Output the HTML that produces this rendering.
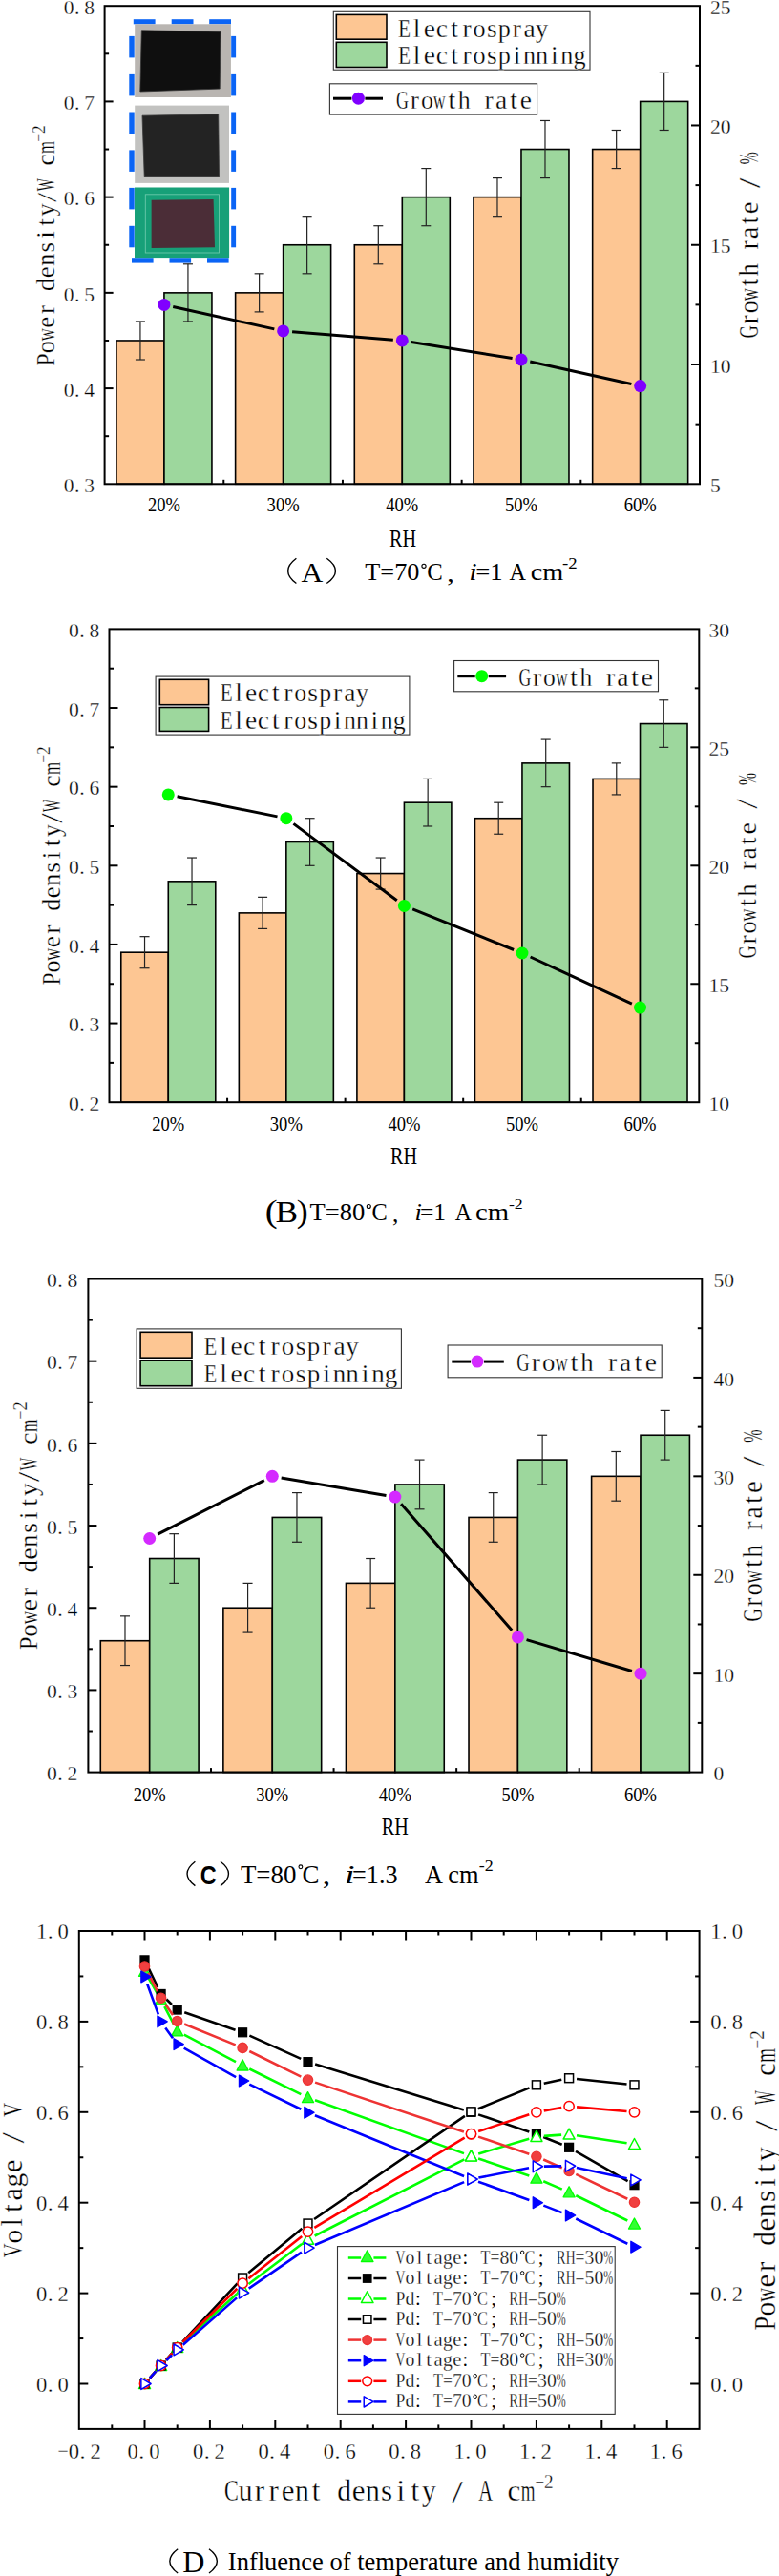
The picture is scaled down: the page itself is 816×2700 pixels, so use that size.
<!DOCTYPE html><html><head><meta charset="utf-8"><title>Figure</title><style>html,body{margin:0;padding:0;background:#fff;}svg{display:block;}</style></head><body>
<svg width="816" height="2700" viewBox="0 0 816 2700">
<rect x="0" y="0" width="816" height="2700" fill="#fff"/>
<rect x="121.94" y="356.97" width="50" height="150.33" fill="#FDC693" stroke="#000" stroke-width="1.6"/>
<rect x="171.94" y="306.86" width="50" height="200.44" fill="#9DD79D" stroke="#000" stroke-width="1.6"/>
<rect x="246.62" y="306.86" width="50" height="200.44" fill="#FDC693" stroke="#000" stroke-width="1.6"/>
<rect x="296.62" y="256.75" width="50" height="250.55" fill="#9DD79D" stroke="#000" stroke-width="1.6"/>
<rect x="371.3" y="256.75" width="50" height="250.55" fill="#FDC693" stroke="#000" stroke-width="1.6"/>
<rect x="421.3" y="206.64" width="50" height="300.66" fill="#9DD79D" stroke="#000" stroke-width="1.6"/>
<rect x="495.98" y="206.64" width="50" height="300.66" fill="#FDC693" stroke="#000" stroke-width="1.6"/>
<rect x="545.98" y="156.53" width="50" height="350.77" fill="#9DD79D" stroke="#000" stroke-width="1.6"/>
<rect x="620.66" y="156.53" width="50" height="350.77" fill="#FDC693" stroke="#000" stroke-width="1.6"/>
<rect x="670.66" y="106.42" width="50" height="400.88" fill="#9DD79D" stroke="#000" stroke-width="1.6"/>
<line x1="146.94" y1="336.93" x2="146.94" y2="377.01" stroke="#222" stroke-width="1.2"/>
<line x1="141.94" y1="336.93" x2="151.94" y2="336.93" stroke="#222" stroke-width="1.2"/>
<line x1="141.94" y1="377.01" x2="151.94" y2="377.01" stroke="#222" stroke-width="1.2"/>
<line x1="196.94" y1="276.79" x2="196.94" y2="336.93" stroke="#222" stroke-width="1.2"/>
<line x1="191.94" y1="276.79" x2="201.94" y2="276.79" stroke="#222" stroke-width="1.2"/>
<line x1="191.94" y1="336.93" x2="201.94" y2="336.93" stroke="#222" stroke-width="1.2"/>
<line x1="271.62" y1="286.82" x2="271.62" y2="326.9" stroke="#222" stroke-width="1.2"/>
<line x1="266.62" y1="286.82" x2="276.62" y2="286.82" stroke="#222" stroke-width="1.2"/>
<line x1="266.62" y1="326.9" x2="276.62" y2="326.9" stroke="#222" stroke-width="1.2"/>
<line x1="321.62" y1="226.68" x2="321.62" y2="286.82" stroke="#222" stroke-width="1.2"/>
<line x1="316.62" y1="226.68" x2="326.62" y2="226.68" stroke="#222" stroke-width="1.2"/>
<line x1="316.62" y1="286.82" x2="326.62" y2="286.82" stroke="#222" stroke-width="1.2"/>
<line x1="396.3" y1="236.71" x2="396.3" y2="276.79" stroke="#222" stroke-width="1.2"/>
<line x1="391.3" y1="236.71" x2="401.3" y2="236.71" stroke="#222" stroke-width="1.2"/>
<line x1="391.3" y1="276.79" x2="401.3" y2="276.79" stroke="#222" stroke-width="1.2"/>
<line x1="446.3" y1="176.57" x2="446.3" y2="236.71" stroke="#222" stroke-width="1.2"/>
<line x1="441.3" y1="176.57" x2="451.3" y2="176.57" stroke="#222" stroke-width="1.2"/>
<line x1="441.3" y1="236.71" x2="451.3" y2="236.71" stroke="#222" stroke-width="1.2"/>
<line x1="520.98" y1="186.6" x2="520.98" y2="226.68" stroke="#222" stroke-width="1.2"/>
<line x1="515.98" y1="186.6" x2="525.98" y2="186.6" stroke="#222" stroke-width="1.2"/>
<line x1="515.98" y1="226.68" x2="525.98" y2="226.68" stroke="#222" stroke-width="1.2"/>
<line x1="570.98" y1="126.46" x2="570.98" y2="186.6" stroke="#222" stroke-width="1.2"/>
<line x1="565.98" y1="126.46" x2="575.98" y2="126.46" stroke="#222" stroke-width="1.2"/>
<line x1="565.98" y1="186.6" x2="575.98" y2="186.6" stroke="#222" stroke-width="1.2"/>
<line x1="645.66" y1="136.49" x2="645.66" y2="176.57" stroke="#222" stroke-width="1.2"/>
<line x1="640.66" y1="136.49" x2="650.66" y2="136.49" stroke="#222" stroke-width="1.2"/>
<line x1="640.66" y1="176.57" x2="650.66" y2="176.57" stroke="#222" stroke-width="1.2"/>
<line x1="695.66" y1="76.35" x2="695.66" y2="136.49" stroke="#222" stroke-width="1.2"/>
<line x1="690.66" y1="76.35" x2="700.66" y2="76.35" stroke="#222" stroke-width="1.2"/>
<line x1="690.66" y1="136.49" x2="700.66" y2="136.49" stroke="#222" stroke-width="1.2"/>
<rect x="109.6" y="6.2" width="623.4" height="501.1" fill="none" stroke="#000" stroke-width="2"/>
<line x1="109.6" y1="457.19" x2="114.1" y2="457.19" stroke="#000" stroke-width="2"/>
<line x1="109.6" y1="407.08" x2="118.6" y2="407.08" stroke="#000" stroke-width="2"/>
<line x1="109.6" y1="356.97" x2="114.1" y2="356.97" stroke="#000" stroke-width="2"/>
<line x1="109.6" y1="306.86" x2="118.6" y2="306.86" stroke="#000" stroke-width="2"/>
<line x1="109.6" y1="256.75" x2="114.1" y2="256.75" stroke="#000" stroke-width="2"/>
<line x1="109.6" y1="206.64" x2="118.6" y2="206.64" stroke="#000" stroke-width="2"/>
<line x1="109.6" y1="156.53" x2="114.1" y2="156.53" stroke="#000" stroke-width="2"/>
<line x1="109.6" y1="106.42" x2="118.6" y2="106.42" stroke="#000" stroke-width="2"/>
<line x1="109.6" y1="56.31" x2="114.1" y2="56.31" stroke="#000" stroke-width="2"/>
<line x1="733" y1="444.66" x2="728.5" y2="444.66" stroke="#000" stroke-width="2"/>
<line x1="733" y1="382.02" x2="724" y2="382.02" stroke="#000" stroke-width="2"/>
<line x1="733" y1="319.39" x2="728.5" y2="319.39" stroke="#000" stroke-width="2"/>
<line x1="733" y1="256.75" x2="724" y2="256.75" stroke="#000" stroke-width="2"/>
<line x1="733" y1="194.11" x2="728.5" y2="194.11" stroke="#000" stroke-width="2"/>
<line x1="733" y1="131.47" x2="724" y2="131.47" stroke="#000" stroke-width="2"/>
<line x1="733" y1="68.84" x2="728.5" y2="68.84" stroke="#000" stroke-width="2"/>
<line x1="234.28" y1="507.3" x2="234.28" y2="502.8" stroke="#000" stroke-width="2"/>
<line x1="358.96" y1="507.3" x2="358.96" y2="502.8" stroke="#000" stroke-width="2"/>
<line x1="483.64" y1="507.3" x2="483.64" y2="502.8" stroke="#000" stroke-width="2"/>
<line x1="608.32" y1="507.3" x2="608.32" y2="502.8" stroke="#000" stroke-width="2"/>
<path d="M181.22 321.44L287.34 344.9M306.09 347.71L411.83 356.21M430.68 358.48L536.6 375.51M555.26 379.06L661.38 402.52" fill="none" stroke="#000" stroke-width="3" stroke-linecap="butt"/>
<circle cx="171.94" cy="319.39" r="6.5" fill="#8000FF"/>
<circle cx="296.62" cy="346.95" r="6.5" fill="#8000FF"/>
<circle cx="421.3" cy="356.97" r="6.5" fill="#8000FF"/>
<circle cx="545.98" cy="377.01" r="6.5" fill="#8000FF"/>
<circle cx="670.66" cy="404.57" r="6.5" fill="#8000FF"/>
<g font-family='"Liberation Serif", serif' font-size='21.7' stroke="#fff" stroke-width="0.3"><text transform="translate(72.1 516.1) scale(0.995 1.000)" text-anchor="middle">0</text><text transform="translate(80.74 516.1)" text-anchor="middle">.</text><text transform="translate(93.7 516.1) scale(0.995 1.000)" text-anchor="middle">3</text></g>
<g font-family='"Liberation Serif", serif' font-size='21.7' stroke="#fff" stroke-width="0.3"><text transform="translate(72.1 415.88) scale(0.995 1.000)" text-anchor="middle">0</text><text transform="translate(80.74 415.88)" text-anchor="middle">.</text><text transform="translate(93.7 415.88) scale(0.995 1.000)" text-anchor="middle">4</text></g>
<g font-family='"Liberation Serif", serif' font-size='21.7' stroke="#fff" stroke-width="0.3"><text transform="translate(72.1 315.66) scale(0.995 1.000)" text-anchor="middle">0</text><text transform="translate(80.74 315.66)" text-anchor="middle">.</text><text transform="translate(93.7 315.66) scale(0.995 1.000)" text-anchor="middle">5</text></g>
<g font-family='"Liberation Serif", serif' font-size='21.7' stroke="#fff" stroke-width="0.3"><text transform="translate(72.1 215.44) scale(0.995 1.000)" text-anchor="middle">0</text><text transform="translate(80.74 215.44)" text-anchor="middle">.</text><text transform="translate(93.7 215.44) scale(0.995 1.000)" text-anchor="middle">6</text></g>
<g font-family='"Liberation Serif", serif' font-size='21.7' stroke="#fff" stroke-width="0.3"><text transform="translate(72.1 115.22) scale(0.995 1.000)" text-anchor="middle">0</text><text transform="translate(80.74 115.22)" text-anchor="middle">.</text><text transform="translate(93.7 115.22) scale(0.995 1.000)" text-anchor="middle">7</text></g>
<g font-family='"Liberation Serif", serif' font-size='21.7' stroke="#fff" stroke-width="0.3"><text transform="translate(72.1 15) scale(0.995 1.000)" text-anchor="middle">0</text><text transform="translate(80.74 15)" text-anchor="middle">.</text><text transform="translate(93.7 15) scale(0.995 1.000)" text-anchor="middle">8</text></g>
<g font-family='"Liberation Serif", serif' font-size='21.7' stroke="#fff" stroke-width="0.3"><text transform="translate(749.4 515.9) scale(0.995 1.000)" text-anchor="middle">5</text></g>
<g font-family='"Liberation Serif", serif' font-size='21.7' stroke="#fff" stroke-width="0.3"><text transform="translate(749.4 390.62) scale(0.995 1.000)" text-anchor="middle">1</text><text transform="translate(760.2 390.62) scale(0.995 1.000)" text-anchor="middle">0</text></g>
<g font-family='"Liberation Serif", serif' font-size='21.7' stroke="#fff" stroke-width="0.3"><text transform="translate(749.4 265.35) scale(0.995 1.000)" text-anchor="middle">1</text><text transform="translate(760.2 265.35) scale(0.995 1.000)" text-anchor="middle">5</text></g>
<g font-family='"Liberation Serif", serif' font-size='21.7' stroke="#fff" stroke-width="0.3"><text transform="translate(749.4 140.07) scale(0.995 1.000)" text-anchor="middle">2</text><text transform="translate(760.2 140.07) scale(0.995 1.000)" text-anchor="middle">0</text></g>
<g font-family='"Liberation Serif", serif' font-size='21.7' stroke="#fff" stroke-width="0.3"><text transform="translate(749.4 14.8) scale(0.995 1.000)" text-anchor="middle">2</text><text transform="translate(760.2 14.8) scale(0.995 1.000)" text-anchor="middle">5</text></g>
<text x="171.94" y="536.3" font-size="20.5" font-family='"Liberation Serif", serif' text-anchor="middle" textLength="34" lengthAdjust="spacingAndGlyphs">20%</text>
<text x="296.62" y="536.3" font-size="20.5" font-family='"Liberation Serif", serif' text-anchor="middle" textLength="34" lengthAdjust="spacingAndGlyphs">30%</text>
<text x="421.3" y="536.3" font-size="20.5" font-family='"Liberation Serif", serif' text-anchor="middle" textLength="34" lengthAdjust="spacingAndGlyphs">40%</text>
<text x="545.98" y="536.3" font-size="20.5" font-family='"Liberation Serif", serif' text-anchor="middle" textLength="34" lengthAdjust="spacingAndGlyphs">50%</text>
<text x="670.66" y="536.3" font-size="20.5" font-family='"Liberation Serif", serif' text-anchor="middle" textLength="34" lengthAdjust="spacingAndGlyphs">60%</text>
<text x="422" y="572.6" font-size="24.5" font-family='"Liberation Serif", serif' text-anchor="middle" textLength="28" lengthAdjust="spacingAndGlyphs">RH</text>
<rect x="126.78" y="998.2" width="49.5" height="157" fill="#FDC693" stroke="#000" stroke-width="1.6"/>
<rect x="176.28" y="923.83" width="49.5" height="231.37" fill="#9DD79D" stroke="#000" stroke-width="1.6"/>
<rect x="250.34" y="956.88" width="49.5" height="198.32" fill="#FDC693" stroke="#000" stroke-width="1.6"/>
<rect x="299.84" y="882.51" width="49.5" height="272.69" fill="#9DD79D" stroke="#000" stroke-width="1.6"/>
<rect x="373.9" y="915.56" width="49.5" height="239.64" fill="#FDC693" stroke="#000" stroke-width="1.6"/>
<rect x="423.4" y="841.19" width="49.5" height="314.01" fill="#9DD79D" stroke="#000" stroke-width="1.6"/>
<rect x="497.46" y="857.72" width="49.5" height="297.48" fill="#FDC693" stroke="#000" stroke-width="1.6"/>
<rect x="546.96" y="799.88" width="49.5" height="355.32" fill="#9DD79D" stroke="#000" stroke-width="1.6"/>
<rect x="621.02" y="816.4" width="49.5" height="338.8" fill="#FDC693" stroke="#000" stroke-width="1.6"/>
<rect x="670.52" y="758.56" width="49.5" height="396.64" fill="#9DD79D" stroke="#000" stroke-width="1.6"/>
<line x1="151.53" y1="981.67" x2="151.53" y2="1014.72" stroke="#222" stroke-width="1.2"/>
<line x1="146.53" y1="981.67" x2="156.53" y2="981.67" stroke="#222" stroke-width="1.2"/>
<line x1="146.53" y1="1014.72" x2="156.53" y2="1014.72" stroke="#222" stroke-width="1.2"/>
<line x1="201.03" y1="899.04" x2="201.03" y2="948.62" stroke="#222" stroke-width="1.2"/>
<line x1="196.03" y1="899.04" x2="206.03" y2="899.04" stroke="#222" stroke-width="1.2"/>
<line x1="196.03" y1="948.62" x2="206.03" y2="948.62" stroke="#222" stroke-width="1.2"/>
<line x1="275.09" y1="940.35" x2="275.09" y2="973.41" stroke="#222" stroke-width="1.2"/>
<line x1="270.09" y1="940.35" x2="280.09" y2="940.35" stroke="#222" stroke-width="1.2"/>
<line x1="270.09" y1="973.41" x2="280.09" y2="973.41" stroke="#222" stroke-width="1.2"/>
<line x1="324.59" y1="857.72" x2="324.59" y2="907.3" stroke="#222" stroke-width="1.2"/>
<line x1="319.59" y1="857.72" x2="329.59" y2="857.72" stroke="#222" stroke-width="1.2"/>
<line x1="319.59" y1="907.3" x2="329.59" y2="907.3" stroke="#222" stroke-width="1.2"/>
<line x1="398.65" y1="899.04" x2="398.65" y2="932.09" stroke="#222" stroke-width="1.2"/>
<line x1="393.65" y1="899.04" x2="403.65" y2="899.04" stroke="#222" stroke-width="1.2"/>
<line x1="393.65" y1="932.09" x2="403.65" y2="932.09" stroke="#222" stroke-width="1.2"/>
<line x1="448.15" y1="816.4" x2="448.15" y2="865.98" stroke="#222" stroke-width="1.2"/>
<line x1="443.15" y1="816.4" x2="453.15" y2="816.4" stroke="#222" stroke-width="1.2"/>
<line x1="443.15" y1="865.98" x2="453.15" y2="865.98" stroke="#222" stroke-width="1.2"/>
<line x1="522.21" y1="841.19" x2="522.21" y2="874.25" stroke="#222" stroke-width="1.2"/>
<line x1="517.21" y1="841.19" x2="527.21" y2="841.19" stroke="#222" stroke-width="1.2"/>
<line x1="517.21" y1="874.25" x2="527.21" y2="874.25" stroke="#222" stroke-width="1.2"/>
<line x1="571.71" y1="775.09" x2="571.71" y2="824.67" stroke="#222" stroke-width="1.2"/>
<line x1="566.71" y1="775.09" x2="576.71" y2="775.09" stroke="#222" stroke-width="1.2"/>
<line x1="566.71" y1="824.67" x2="576.71" y2="824.67" stroke="#222" stroke-width="1.2"/>
<line x1="645.77" y1="799.88" x2="645.77" y2="832.93" stroke="#222" stroke-width="1.2"/>
<line x1="640.77" y1="799.88" x2="650.77" y2="799.88" stroke="#222" stroke-width="1.2"/>
<line x1="640.77" y1="832.93" x2="650.77" y2="832.93" stroke="#222" stroke-width="1.2"/>
<line x1="695.27" y1="733.77" x2="695.27" y2="783.35" stroke="#222" stroke-width="1.2"/>
<line x1="690.27" y1="733.77" x2="700.27" y2="733.77" stroke="#222" stroke-width="1.2"/>
<line x1="690.27" y1="783.35" x2="700.27" y2="783.35" stroke="#222" stroke-width="1.2"/>
<rect x="114.5" y="659.4" width="617.8" height="495.8" fill="none" stroke="#000" stroke-width="2"/>
<line x1="114.5" y1="1113.88" x2="119" y2="1113.88" stroke="#000" stroke-width="2"/>
<line x1="114.5" y1="1072.57" x2="123.5" y2="1072.57" stroke="#000" stroke-width="2"/>
<line x1="114.5" y1="1031.25" x2="119" y2="1031.25" stroke="#000" stroke-width="2"/>
<line x1="114.5" y1="989.93" x2="123.5" y2="989.93" stroke="#000" stroke-width="2"/>
<line x1="114.5" y1="948.62" x2="119" y2="948.62" stroke="#000" stroke-width="2"/>
<line x1="114.5" y1="907.3" x2="123.5" y2="907.3" stroke="#000" stroke-width="2"/>
<line x1="114.5" y1="865.98" x2="119" y2="865.98" stroke="#000" stroke-width="2"/>
<line x1="114.5" y1="824.67" x2="123.5" y2="824.67" stroke="#000" stroke-width="2"/>
<line x1="114.5" y1="783.35" x2="119" y2="783.35" stroke="#000" stroke-width="2"/>
<line x1="114.5" y1="742.03" x2="123.5" y2="742.03" stroke="#000" stroke-width="2"/>
<line x1="114.5" y1="700.72" x2="119" y2="700.72" stroke="#000" stroke-width="2"/>
<line x1="732.3" y1="1093.23" x2="727.8" y2="1093.23" stroke="#000" stroke-width="2"/>
<line x1="732.3" y1="1031.25" x2="723.3" y2="1031.25" stroke="#000" stroke-width="2"/>
<line x1="732.3" y1="969.28" x2="727.8" y2="969.28" stroke="#000" stroke-width="2"/>
<line x1="732.3" y1="907.3" x2="723.3" y2="907.3" stroke="#000" stroke-width="2"/>
<line x1="732.3" y1="845.33" x2="727.8" y2="845.33" stroke="#000" stroke-width="2"/>
<line x1="732.3" y1="783.35" x2="723.3" y2="783.35" stroke="#000" stroke-width="2"/>
<line x1="732.3" y1="721.38" x2="727.8" y2="721.38" stroke="#000" stroke-width="2"/>
<line x1="238.06" y1="1155.2" x2="238.06" y2="1150.7" stroke="#000" stroke-width="2"/>
<line x1="361.62" y1="1155.2" x2="361.62" y2="1150.7" stroke="#000" stroke-width="2"/>
<line x1="485.18" y1="1155.2" x2="485.18" y2="1150.7" stroke="#000" stroke-width="2"/>
<line x1="608.74" y1="1155.2" x2="608.74" y2="1150.7" stroke="#000" stroke-width="2"/>
<path d="M185.59 834.8L290.53 855.85M307.47 863.38L415.77 943.78M432.22 952.98L538.14 995.49M555.59 1003L661.89 1052.06" fill="none" stroke="#000" stroke-width="3" stroke-linecap="butt"/>
<circle cx="176.28" cy="832.93" r="6.5" fill="#00FF00"/>
<circle cx="299.84" cy="857.72" r="6.5" fill="#00FF00"/>
<circle cx="423.4" cy="949.44" r="6.5" fill="#00FF00"/>
<circle cx="546.96" cy="999.02" r="6.5" fill="#00FF00"/>
<circle cx="670.52" cy="1056.04" r="6.5" fill="#00FF00"/>
<g font-family='"Liberation Serif", serif' font-size='21.7' stroke="#fff" stroke-width="0.3"><text transform="translate(77.3 1164) scale(0.995 1.000)" text-anchor="middle">0</text><text transform="translate(85.94 1164)" text-anchor="middle">.</text><text transform="translate(98.9 1164) scale(0.995 1.000)" text-anchor="middle">2</text></g>
<g font-family='"Liberation Serif", serif' font-size='21.7' stroke="#fff" stroke-width="0.3"><text transform="translate(77.3 1081.37) scale(0.995 1.000)" text-anchor="middle">0</text><text transform="translate(85.94 1081.37)" text-anchor="middle">.</text><text transform="translate(98.9 1081.37) scale(0.995 1.000)" text-anchor="middle">3</text></g>
<g font-family='"Liberation Serif", serif' font-size='21.7' stroke="#fff" stroke-width="0.3"><text transform="translate(77.3 998.73) scale(0.995 1.000)" text-anchor="middle">0</text><text transform="translate(85.94 998.73)" text-anchor="middle">.</text><text transform="translate(98.9 998.73) scale(0.995 1.000)" text-anchor="middle">4</text></g>
<g font-family='"Liberation Serif", serif' font-size='21.7' stroke="#fff" stroke-width="0.3"><text transform="translate(77.3 916.1) scale(0.995 1.000)" text-anchor="middle">0</text><text transform="translate(85.94 916.1)" text-anchor="middle">.</text><text transform="translate(98.9 916.1) scale(0.995 1.000)" text-anchor="middle">5</text></g>
<g font-family='"Liberation Serif", serif' font-size='21.7' stroke="#fff" stroke-width="0.3"><text transform="translate(77.3 833.47) scale(0.995 1.000)" text-anchor="middle">0</text><text transform="translate(85.94 833.47)" text-anchor="middle">.</text><text transform="translate(98.9 833.47) scale(0.995 1.000)" text-anchor="middle">6</text></g>
<g font-family='"Liberation Serif", serif' font-size='21.7' stroke="#fff" stroke-width="0.3"><text transform="translate(77.3 750.83) scale(0.995 1.000)" text-anchor="middle">0</text><text transform="translate(85.94 750.83)" text-anchor="middle">.</text><text transform="translate(98.9 750.83) scale(0.995 1.000)" text-anchor="middle">7</text></g>
<g font-family='"Liberation Serif", serif' font-size='21.7' stroke="#fff" stroke-width="0.3"><text transform="translate(77.3 668.2) scale(0.995 1.000)" text-anchor="middle">0</text><text transform="translate(85.94 668.2)" text-anchor="middle">.</text><text transform="translate(98.9 668.2) scale(0.995 1.000)" text-anchor="middle">8</text></g>
<g font-family='"Liberation Serif", serif' font-size='21.7' stroke="#fff" stroke-width="0.3"><text transform="translate(747.9 1163.8) scale(0.995 1.000)" text-anchor="middle">1</text><text transform="translate(758.7 1163.8) scale(0.995 1.000)" text-anchor="middle">0</text></g>
<g font-family='"Liberation Serif", serif' font-size='21.7' stroke="#fff" stroke-width="0.3"><text transform="translate(747.9 1039.85) scale(0.995 1.000)" text-anchor="middle">1</text><text transform="translate(758.7 1039.85) scale(0.995 1.000)" text-anchor="middle">5</text></g>
<g font-family='"Liberation Serif", serif' font-size='21.7' stroke="#fff" stroke-width="0.3"><text transform="translate(747.9 915.9) scale(0.995 1.000)" text-anchor="middle">2</text><text transform="translate(758.7 915.9) scale(0.995 1.000)" text-anchor="middle">0</text></g>
<g font-family='"Liberation Serif", serif' font-size='21.7' stroke="#fff" stroke-width="0.3"><text transform="translate(747.9 791.95) scale(0.995 1.000)" text-anchor="middle">2</text><text transform="translate(758.7 791.95) scale(0.995 1.000)" text-anchor="middle">5</text></g>
<g font-family='"Liberation Serif", serif' font-size='21.7' stroke="#fff" stroke-width="0.3"><text transform="translate(747.9 668) scale(0.995 1.000)" text-anchor="middle">3</text><text transform="translate(758.7 668) scale(0.995 1.000)" text-anchor="middle">0</text></g>
<text x="176.28" y="1184.7" font-size="20.5" font-family='"Liberation Serif", serif' text-anchor="middle" textLength="34" lengthAdjust="spacingAndGlyphs">20%</text>
<text x="299.84" y="1184.7" font-size="20.5" font-family='"Liberation Serif", serif' text-anchor="middle" textLength="34" lengthAdjust="spacingAndGlyphs">30%</text>
<text x="423.4" y="1184.7" font-size="20.5" font-family='"Liberation Serif", serif' text-anchor="middle" textLength="34" lengthAdjust="spacingAndGlyphs">40%</text>
<text x="546.96" y="1184.7" font-size="20.5" font-family='"Liberation Serif", serif' text-anchor="middle" textLength="34" lengthAdjust="spacingAndGlyphs">50%</text>
<text x="670.52" y="1184.7" font-size="20.5" font-family='"Liberation Serif", serif' text-anchor="middle" textLength="34" lengthAdjust="spacingAndGlyphs">60%</text>
<text x="423" y="1219.8" font-size="24.5" font-family='"Liberation Serif", serif' text-anchor="middle" textLength="28" lengthAdjust="spacingAndGlyphs">RH</text>
<rect x="105.29" y="1719.71" width="51.4" height="137.89" fill="#FDC693" stroke="#000" stroke-width="1.6"/>
<rect x="156.69" y="1633.52" width="51.4" height="224.08" fill="#9DD79D" stroke="#000" stroke-width="1.6"/>
<rect x="233.87" y="1685.23" width="51.4" height="172.37" fill="#FDC693" stroke="#000" stroke-width="1.6"/>
<rect x="285.27" y="1590.43" width="51.4" height="267.17" fill="#9DD79D" stroke="#000" stroke-width="1.6"/>
<rect x="362.45" y="1659.38" width="51.4" height="198.22" fill="#FDC693" stroke="#000" stroke-width="1.6"/>
<rect x="413.85" y="1555.96" width="51.4" height="301.64" fill="#9DD79D" stroke="#000" stroke-width="1.6"/>
<rect x="491.03" y="1590.43" width="51.4" height="267.17" fill="#FDC693" stroke="#000" stroke-width="1.6"/>
<rect x="542.43" y="1530.1" width="51.4" height="327.5" fill="#9DD79D" stroke="#000" stroke-width="1.6"/>
<rect x="619.61" y="1547.34" width="51.4" height="310.26" fill="#FDC693" stroke="#000" stroke-width="1.6"/>
<rect x="671.01" y="1504.25" width="51.4" height="353.35" fill="#9DD79D" stroke="#000" stroke-width="1.6"/>
<line x1="130.99" y1="1693.85" x2="130.99" y2="1745.56" stroke="#222" stroke-width="1.2"/>
<line x1="125.99" y1="1693.85" x2="135.99" y2="1693.85" stroke="#222" stroke-width="1.2"/>
<line x1="125.99" y1="1745.56" x2="135.99" y2="1745.56" stroke="#222" stroke-width="1.2"/>
<line x1="182.39" y1="1607.67" x2="182.39" y2="1659.38" stroke="#222" stroke-width="1.2"/>
<line x1="177.39" y1="1607.67" x2="187.39" y2="1607.67" stroke="#222" stroke-width="1.2"/>
<line x1="177.39" y1="1659.38" x2="187.39" y2="1659.38" stroke="#222" stroke-width="1.2"/>
<line x1="259.57" y1="1659.38" x2="259.57" y2="1711.09" stroke="#222" stroke-width="1.2"/>
<line x1="254.57" y1="1659.38" x2="264.57" y2="1659.38" stroke="#222" stroke-width="1.2"/>
<line x1="254.57" y1="1711.09" x2="264.57" y2="1711.09" stroke="#222" stroke-width="1.2"/>
<line x1="310.97" y1="1564.58" x2="310.97" y2="1616.29" stroke="#222" stroke-width="1.2"/>
<line x1="305.97" y1="1564.58" x2="315.97" y2="1564.58" stroke="#222" stroke-width="1.2"/>
<line x1="305.97" y1="1616.29" x2="315.97" y2="1616.29" stroke="#222" stroke-width="1.2"/>
<line x1="388.15" y1="1633.52" x2="388.15" y2="1685.23" stroke="#222" stroke-width="1.2"/>
<line x1="383.15" y1="1633.52" x2="393.15" y2="1633.52" stroke="#222" stroke-width="1.2"/>
<line x1="383.15" y1="1685.23" x2="393.15" y2="1685.23" stroke="#222" stroke-width="1.2"/>
<line x1="439.55" y1="1530.1" x2="439.55" y2="1581.81" stroke="#222" stroke-width="1.2"/>
<line x1="434.55" y1="1530.1" x2="444.55" y2="1530.1" stroke="#222" stroke-width="1.2"/>
<line x1="434.55" y1="1581.81" x2="444.55" y2="1581.81" stroke="#222" stroke-width="1.2"/>
<line x1="516.73" y1="1564.58" x2="516.73" y2="1616.29" stroke="#222" stroke-width="1.2"/>
<line x1="511.73" y1="1564.58" x2="521.73" y2="1564.58" stroke="#222" stroke-width="1.2"/>
<line x1="511.73" y1="1616.29" x2="521.73" y2="1616.29" stroke="#222" stroke-width="1.2"/>
<line x1="568.13" y1="1504.25" x2="568.13" y2="1555.96" stroke="#222" stroke-width="1.2"/>
<line x1="563.13" y1="1504.25" x2="573.13" y2="1504.25" stroke="#222" stroke-width="1.2"/>
<line x1="563.13" y1="1555.96" x2="573.13" y2="1555.96" stroke="#222" stroke-width="1.2"/>
<line x1="645.31" y1="1521.48" x2="645.31" y2="1573.19" stroke="#222" stroke-width="1.2"/>
<line x1="640.31" y1="1521.48" x2="650.31" y2="1521.48" stroke="#222" stroke-width="1.2"/>
<line x1="640.31" y1="1573.19" x2="650.31" y2="1573.19" stroke="#222" stroke-width="1.2"/>
<line x1="696.71" y1="1478.39" x2="696.71" y2="1530.1" stroke="#222" stroke-width="1.2"/>
<line x1="691.71" y1="1478.39" x2="701.71" y2="1478.39" stroke="#222" stroke-width="1.2"/>
<line x1="691.71" y1="1530.1" x2="701.71" y2="1530.1" stroke="#222" stroke-width="1.2"/>
<rect x="92.4" y="1340.5" width="642.9" height="517.1" fill="none" stroke="#000" stroke-width="2"/>
<line x1="92.4" y1="1814.51" x2="96.9" y2="1814.51" stroke="#000" stroke-width="2"/>
<line x1="92.4" y1="1771.42" x2="101.4" y2="1771.42" stroke="#000" stroke-width="2"/>
<line x1="92.4" y1="1728.32" x2="96.9" y2="1728.32" stroke="#000" stroke-width="2"/>
<line x1="92.4" y1="1685.23" x2="101.4" y2="1685.23" stroke="#000" stroke-width="2"/>
<line x1="92.4" y1="1642.14" x2="96.9" y2="1642.14" stroke="#000" stroke-width="2"/>
<line x1="92.4" y1="1599.05" x2="101.4" y2="1599.05" stroke="#000" stroke-width="2"/>
<line x1="92.4" y1="1555.96" x2="96.9" y2="1555.96" stroke="#000" stroke-width="2"/>
<line x1="92.4" y1="1512.87" x2="101.4" y2="1512.87" stroke="#000" stroke-width="2"/>
<line x1="92.4" y1="1469.78" x2="96.9" y2="1469.78" stroke="#000" stroke-width="2"/>
<line x1="92.4" y1="1426.68" x2="101.4" y2="1426.68" stroke="#000" stroke-width="2"/>
<line x1="92.4" y1="1383.59" x2="96.9" y2="1383.59" stroke="#000" stroke-width="2"/>
<line x1="735.3" y1="1805.89" x2="730.8" y2="1805.89" stroke="#000" stroke-width="2"/>
<line x1="735.3" y1="1754.18" x2="726.3" y2="1754.18" stroke="#000" stroke-width="2"/>
<line x1="735.3" y1="1702.47" x2="730.8" y2="1702.47" stroke="#000" stroke-width="2"/>
<line x1="735.3" y1="1650.76" x2="726.3" y2="1650.76" stroke="#000" stroke-width="2"/>
<line x1="735.3" y1="1599.05" x2="730.8" y2="1599.05" stroke="#000" stroke-width="2"/>
<line x1="735.3" y1="1547.34" x2="726.3" y2="1547.34" stroke="#000" stroke-width="2"/>
<line x1="735.3" y1="1495.63" x2="730.8" y2="1495.63" stroke="#000" stroke-width="2"/>
<line x1="735.3" y1="1443.92" x2="726.3" y2="1443.92" stroke="#000" stroke-width="2"/>
<line x1="735.3" y1="1392.21" x2="730.8" y2="1392.21" stroke="#000" stroke-width="2"/>
<line x1="220.98" y1="1857.6" x2="220.98" y2="1853.1" stroke="#000" stroke-width="2"/>
<line x1="349.56" y1="1857.6" x2="349.56" y2="1853.1" stroke="#000" stroke-width="2"/>
<line x1="478.14" y1="1857.6" x2="478.14" y2="1853.1" stroke="#000" stroke-width="2"/>
<line x1="606.72" y1="1857.6" x2="606.72" y2="1853.1" stroke="#000" stroke-width="2"/>
<path d="M165.16 1608.2L276.8 1551.63M294.64 1548.92L404.48 1567.48M420.11 1576.21L536.17 1708.77M551.54 1718.62L661.9 1751.47" fill="none" stroke="#000" stroke-width="3" stroke-linecap="butt"/>
<circle cx="156.69" cy="1612.49" r="6.5" fill="#D42AFF"/>
<circle cx="285.27" cy="1547.34" r="6.5" fill="#D42AFF"/>
<circle cx="413.85" cy="1569.06" r="6.5" fill="#D42AFF"/>
<circle cx="542.43" cy="1715.91" r="6.5" fill="#D42AFF"/>
<circle cx="671.01" cy="1754.18" r="6.5" fill="#D42AFF"/>
<g font-family='"Liberation Serif", serif' font-size='21.7' stroke="#fff" stroke-width="0.3"><text transform="translate(54.3 1866.4) scale(0.995 1.000)" text-anchor="middle">0</text><text transform="translate(62.94 1866.4)" text-anchor="middle">.</text><text transform="translate(75.9 1866.4) scale(0.995 1.000)" text-anchor="middle">2</text></g>
<g font-family='"Liberation Serif", serif' font-size='21.7' stroke="#fff" stroke-width="0.3"><text transform="translate(54.3 1780.22) scale(0.995 1.000)" text-anchor="middle">0</text><text transform="translate(62.94 1780.22)" text-anchor="middle">.</text><text transform="translate(75.9 1780.22) scale(0.995 1.000)" text-anchor="middle">3</text></g>
<g font-family='"Liberation Serif", serif' font-size='21.7' stroke="#fff" stroke-width="0.3"><text transform="translate(54.3 1694.03) scale(0.995 1.000)" text-anchor="middle">0</text><text transform="translate(62.94 1694.03)" text-anchor="middle">.</text><text transform="translate(75.9 1694.03) scale(0.995 1.000)" text-anchor="middle">4</text></g>
<g font-family='"Liberation Serif", serif' font-size='21.7' stroke="#fff" stroke-width="0.3"><text transform="translate(54.3 1607.85) scale(0.995 1.000)" text-anchor="middle">0</text><text transform="translate(62.94 1607.85)" text-anchor="middle">.</text><text transform="translate(75.9 1607.85) scale(0.995 1.000)" text-anchor="middle">5</text></g>
<g font-family='"Liberation Serif", serif' font-size='21.7' stroke="#fff" stroke-width="0.3"><text transform="translate(54.3 1521.67) scale(0.995 1.000)" text-anchor="middle">0</text><text transform="translate(62.94 1521.67)" text-anchor="middle">.</text><text transform="translate(75.9 1521.67) scale(0.995 1.000)" text-anchor="middle">6</text></g>
<g font-family='"Liberation Serif", serif' font-size='21.7' stroke="#fff" stroke-width="0.3"><text transform="translate(54.3 1435.48) scale(0.995 1.000)" text-anchor="middle">0</text><text transform="translate(62.94 1435.48)" text-anchor="middle">.</text><text transform="translate(75.9 1435.48) scale(0.995 1.000)" text-anchor="middle">7</text></g>
<g font-family='"Liberation Serif", serif' font-size='21.7' stroke="#fff" stroke-width="0.3"><text transform="translate(54.3 1349.3) scale(0.995 1.000)" text-anchor="middle">0</text><text transform="translate(62.94 1349.3)" text-anchor="middle">.</text><text transform="translate(75.9 1349.3) scale(0.995 1.000)" text-anchor="middle">8</text></g>
<g font-family='"Liberation Serif", serif' font-size='21.7' stroke="#fff" stroke-width="0.3"><text transform="translate(752.9 1866.2) scale(0.995 1.000)" text-anchor="middle">0</text></g>
<g font-family='"Liberation Serif", serif' font-size='21.7' stroke="#fff" stroke-width="0.3"><text transform="translate(752.9 1762.78) scale(0.995 1.000)" text-anchor="middle">1</text><text transform="translate(763.7 1762.78) scale(0.995 1.000)" text-anchor="middle">0</text></g>
<g font-family='"Liberation Serif", serif' font-size='21.7' stroke="#fff" stroke-width="0.3"><text transform="translate(752.9 1659.36) scale(0.995 1.000)" text-anchor="middle">2</text><text transform="translate(763.7 1659.36) scale(0.995 1.000)" text-anchor="middle">0</text></g>
<g font-family='"Liberation Serif", serif' font-size='21.7' stroke="#fff" stroke-width="0.3"><text transform="translate(752.9 1555.94) scale(0.995 1.000)" text-anchor="middle">3</text><text transform="translate(763.7 1555.94) scale(0.995 1.000)" text-anchor="middle">0</text></g>
<g font-family='"Liberation Serif", serif' font-size='21.7' stroke="#fff" stroke-width="0.3"><text transform="translate(752.9 1452.52) scale(0.995 1.000)" text-anchor="middle">4</text><text transform="translate(763.7 1452.52) scale(0.995 1.000)" text-anchor="middle">0</text></g>
<g font-family='"Liberation Serif", serif' font-size='21.7' stroke="#fff" stroke-width="0.3"><text transform="translate(752.9 1349.1) scale(0.995 1.000)" text-anchor="middle">5</text><text transform="translate(763.7 1349.1) scale(0.995 1.000)" text-anchor="middle">0</text></g>
<text x="156.69" y="1887.8" font-size="20.5" font-family='"Liberation Serif", serif' text-anchor="middle" textLength="34" lengthAdjust="spacingAndGlyphs">20%</text>
<text x="285.27" y="1887.8" font-size="20.5" font-family='"Liberation Serif", serif' text-anchor="middle" textLength="34" lengthAdjust="spacingAndGlyphs">30%</text>
<text x="413.85" y="1887.8" font-size="20.5" font-family='"Liberation Serif", serif' text-anchor="middle" textLength="34" lengthAdjust="spacingAndGlyphs">40%</text>
<text x="542.43" y="1887.8" font-size="20.5" font-family='"Liberation Serif", serif' text-anchor="middle" textLength="34" lengthAdjust="spacingAndGlyphs">50%</text>
<text x="671.01" y="1887.8" font-size="20.5" font-family='"Liberation Serif", serif' text-anchor="middle" textLength="34" lengthAdjust="spacingAndGlyphs">60%</text>
<text x="413.7" y="1923.2" font-size="24.5" font-family='"Liberation Serif", serif' text-anchor="middle" textLength="28" lengthAdjust="spacingAndGlyphs">RH</text>
<rect x="349.3" y="12.3" width="268.7" height="60.9" fill="#fff" stroke="#333" stroke-width="1.1"/>
<rect x="352.3" y="15.4" width="52.7" height="25.8" fill="#FDC693" stroke="#000" stroke-width="1.6"/>
<rect x="352.3" y="44.3" width="52.7" height="26.2" fill="#9DD79D" stroke="#000" stroke-width="1.6"/>
<g font-family='"Liberation Serif", serif' font-size='27.5' stroke="#fff" stroke-width="0.3"><text transform="translate(423.55 38.6) scale(0.780 1.000)" text-anchor="middle">E</text><text transform="translate(436.65 38.6)" text-anchor="middle">l</text><text transform="translate(449.75 38.6)" text-anchor="middle">e</text><text transform="translate(462.85 38.6)" text-anchor="middle">c</text><text transform="translate(475.95 38.6)" text-anchor="middle">t</text><text transform="translate(489.05 38.6)" text-anchor="middle">r</text><text transform="translate(502.15 38.6) scale(0.953 1.000)" text-anchor="middle">o</text><text transform="translate(515.25 38.6)" text-anchor="middle">s</text><text transform="translate(528.35 38.6) scale(0.953 1.000)" text-anchor="middle">p</text><text transform="translate(541.45 38.6)" text-anchor="middle">r</text><text transform="translate(554.55 38.6)" text-anchor="middle">a</text><text transform="translate(567.65 38.6) scale(0.953 1.000)" text-anchor="middle">y</text></g>
<g font-family='"Liberation Serif", serif' font-size='27.5' stroke="#fff" stroke-width="0.3"><text transform="translate(423.55 67.1) scale(0.780 1.000)" text-anchor="middle">E</text><text transform="translate(436.65 67.1)" text-anchor="middle">l</text><text transform="translate(449.75 67.1)" text-anchor="middle">e</text><text transform="translate(462.85 67.1)" text-anchor="middle">c</text><text transform="translate(475.95 67.1)" text-anchor="middle">t</text><text transform="translate(489.05 67.1)" text-anchor="middle">r</text><text transform="translate(502.15 67.1) scale(0.953 1.000)" text-anchor="middle">o</text><text transform="translate(515.25 67.1)" text-anchor="middle">s</text><text transform="translate(528.35 67.1) scale(0.953 1.000)" text-anchor="middle">p</text><text transform="translate(541.45 67.1)" text-anchor="middle">i</text><text transform="translate(554.55 67.1) scale(0.953 1.000)" text-anchor="middle">n</text><text transform="translate(567.65 67.1) scale(0.953 1.000)" text-anchor="middle">n</text><text transform="translate(580.75 67.1)" text-anchor="middle">i</text><text transform="translate(593.85 67.1) scale(0.953 1.000)" text-anchor="middle">n</text><text transform="translate(606.95 67.1) scale(0.953 1.000)" text-anchor="middle">g</text></g>
<rect x="345.4" y="87.8" width="217.2" height="32.3" fill="#fff" stroke="#333" stroke-width="1.1"/>
<line x1="349" y1="103.2" x2="368.4" y2="103.2" stroke="#000" stroke-width="3"/>
<line x1="382.4" y1="103.2" x2="401" y2="103.2" stroke="#000" stroke-width="3"/>
<circle cx="375.4" cy="103.2" r="6.5" fill="#8000FF"/>
<g font-family='"Liberation Serif", serif' font-size='27.5' stroke="#fff" stroke-width="0.3"><text transform="translate(421.48 113.6) scale(0.652 1.000)" text-anchor="middle">G</text><text transform="translate(434.43 113.6)" text-anchor="middle">r</text><text transform="translate(447.38 113.6) scale(0.942 1.000)" text-anchor="middle">o</text><text transform="translate(460.33 113.6) scale(0.652 1.000)" text-anchor="middle">w</text><text transform="translate(473.28 113.6)" text-anchor="middle">t</text><text transform="translate(486.23 113.6) scale(0.942 1.000)" text-anchor="middle">h</text><text transform="translate(512.12 113.6)" text-anchor="middle">r</text><text transform="translate(525.08 113.6)" text-anchor="middle">a</text><text transform="translate(538.02 113.6)" text-anchor="middle">t</text><text transform="translate(550.98 113.6)" text-anchor="middle">e</text></g>
<rect x="163.1" y="709.1" width="265.8" height="61" fill="#fff" stroke="#333" stroke-width="1.1"/>
<rect x="167.3" y="712.3" width="51.3" height="26.4" fill="#FDC693" stroke="#000" stroke-width="1.6"/>
<rect x="167.3" y="741.5" width="51.3" height="24.9" fill="#9DD79D" stroke="#000" stroke-width="1.6"/>
<g font-family='"Liberation Serif", serif' font-size='27.5' stroke="#fff" stroke-width="0.3"><text transform="translate(237.16 735) scale(0.770 1.000)" text-anchor="middle">E</text><text transform="translate(250.09 735)" text-anchor="middle">l</text><text transform="translate(263.02 735)" text-anchor="middle">e</text><text transform="translate(275.95 735)" text-anchor="middle">c</text><text transform="translate(288.88 735)" text-anchor="middle">t</text><text transform="translate(301.81 735)" text-anchor="middle">r</text><text transform="translate(314.74 735) scale(0.940 1.000)" text-anchor="middle">o</text><text transform="translate(327.67 735)" text-anchor="middle">s</text><text transform="translate(340.6 735) scale(0.940 1.000)" text-anchor="middle">p</text><text transform="translate(353.53 735)" text-anchor="middle">r</text><text transform="translate(366.46 735)" text-anchor="middle">a</text><text transform="translate(379.39 735) scale(0.940 1.000)" text-anchor="middle">y</text></g>
<g font-family='"Liberation Serif", serif' font-size='27.5' stroke="#fff" stroke-width="0.3"><text transform="translate(237.16 763.6) scale(0.770 1.000)" text-anchor="middle">E</text><text transform="translate(250.09 763.6)" text-anchor="middle">l</text><text transform="translate(263.02 763.6)" text-anchor="middle">e</text><text transform="translate(275.95 763.6)" text-anchor="middle">c</text><text transform="translate(288.88 763.6)" text-anchor="middle">t</text><text transform="translate(301.81 763.6)" text-anchor="middle">r</text><text transform="translate(314.74 763.6) scale(0.940 1.000)" text-anchor="middle">o</text><text transform="translate(327.67 763.6)" text-anchor="middle">s</text><text transform="translate(340.6 763.6) scale(0.940 1.000)" text-anchor="middle">p</text><text transform="translate(353.53 763.6)" text-anchor="middle">i</text><text transform="translate(366.46 763.6) scale(0.940 1.000)" text-anchor="middle">n</text><text transform="translate(379.39 763.6) scale(0.940 1.000)" text-anchor="middle">n</text><text transform="translate(392.32 763.6)" text-anchor="middle">i</text><text transform="translate(405.25 763.6) scale(0.940 1.000)" text-anchor="middle">n</text><text transform="translate(418.18 763.6) scale(0.940 1.000)" text-anchor="middle">g</text></g>
<rect x="475.6" y="692.5" width="213.9" height="32.3" fill="#fff" stroke="#333" stroke-width="1.1"/>
<line x1="479.3" y1="708.7" x2="497.7" y2="708.7" stroke="#000" stroke-width="3"/>
<line x1="511.7" y1="708.7" x2="530.1" y2="708.7" stroke="#000" stroke-width="3"/>
<circle cx="504.7" cy="708.7" r="6.5" fill="#00FF00"/>
<g font-family='"Liberation Serif", serif' font-size='27.5' stroke="#fff" stroke-width="0.3"><text transform="translate(549.9 718.5) scale(0.645 1.000)" text-anchor="middle">G</text><text transform="translate(562.7 718.5)" text-anchor="middle">r</text><text transform="translate(575.5 718.5) scale(0.931 1.000)" text-anchor="middle">o</text><text transform="translate(588.3 718.5) scale(0.645 1.000)" text-anchor="middle">w</text><text transform="translate(601.1 718.5)" text-anchor="middle">t</text><text transform="translate(613.9 718.5) scale(0.931 1.000)" text-anchor="middle">h</text><text transform="translate(639.5 718.5)" text-anchor="middle">r</text><text transform="translate(652.3 718.5)" text-anchor="middle">a</text><text transform="translate(665.1 718.5)" text-anchor="middle">t</text><text transform="translate(677.9 718.5)" text-anchor="middle">e</text></g>
<rect x="143.1" y="1392.9" width="277.3" height="62.4" fill="#fff" stroke="#333" stroke-width="1.1"/>
<rect x="147.1" y="1396.3" width="53.9" height="26.9" fill="#FDC693" stroke="#000" stroke-width="1.6"/>
<rect x="147.1" y="1425.8" width="53.9" height="26.9" fill="#9DD79D" stroke="#000" stroke-width="1.6"/>
<g font-family='"Liberation Serif", serif' font-size='27.5' stroke="#fff" stroke-width="0.3"><text transform="translate(220.55 1420) scale(0.804 1.000)" text-anchor="middle">E</text><text transform="translate(234.05 1420)" text-anchor="middle">l</text><text transform="translate(247.55 1420)" text-anchor="middle">e</text><text transform="translate(261.05 1420)" text-anchor="middle">c</text><text transform="translate(274.55 1420)" text-anchor="middle">t</text><text transform="translate(288.05 1420)" text-anchor="middle">r</text><text transform="translate(301.55 1420) scale(0.982 1.000)" text-anchor="middle">o</text><text transform="translate(315.05 1420)" text-anchor="middle">s</text><text transform="translate(328.55 1420) scale(0.982 1.000)" text-anchor="middle">p</text><text transform="translate(342.05 1420)" text-anchor="middle">r</text><text transform="translate(355.55 1420)" text-anchor="middle">a</text><text transform="translate(369.05 1420) scale(0.982 1.000)" text-anchor="middle">y</text></g>
<g font-family='"Liberation Serif", serif' font-size='27.5' stroke="#fff" stroke-width="0.3"><text transform="translate(220.55 1449) scale(0.804 1.000)" text-anchor="middle">E</text><text transform="translate(234.05 1449)" text-anchor="middle">l</text><text transform="translate(247.55 1449)" text-anchor="middle">e</text><text transform="translate(261.05 1449)" text-anchor="middle">c</text><text transform="translate(274.55 1449)" text-anchor="middle">t</text><text transform="translate(288.05 1449)" text-anchor="middle">r</text><text transform="translate(301.55 1449) scale(0.982 1.000)" text-anchor="middle">o</text><text transform="translate(315.05 1449)" text-anchor="middle">s</text><text transform="translate(328.55 1449) scale(0.982 1.000)" text-anchor="middle">p</text><text transform="translate(342.05 1449)" text-anchor="middle">i</text><text transform="translate(355.55 1449) scale(0.982 1.000)" text-anchor="middle">n</text><text transform="translate(369.05 1449) scale(0.982 1.000)" text-anchor="middle">n</text><text transform="translate(382.55 1449)" text-anchor="middle">i</text><text transform="translate(396.05 1449) scale(0.982 1.000)" text-anchor="middle">n</text><text transform="translate(409.55 1449) scale(0.982 1.000)" text-anchor="middle">g</text></g>
<rect x="469.1" y="1410" width="224.1" height="33.8" fill="#fff" stroke="#333" stroke-width="1.1"/>
<line x1="473.3" y1="1427.1" x2="493" y2="1427.1" stroke="#000" stroke-width="3"/>
<line x1="507" y1="1427.1" x2="527.8" y2="1427.1" stroke="#000" stroke-width="3"/>
<circle cx="500" cy="1427.1" r="6.5" fill="#D42AFF"/>
<g font-family='"Liberation Serif", serif' font-size='27.5' stroke="#fff" stroke-width="0.3"><text transform="translate(547.9 1436.5) scale(0.675 1.000)" text-anchor="middle">G</text><text transform="translate(561.3 1436.5)" text-anchor="middle">r</text><text transform="translate(574.7 1436.5) scale(0.975 1.000)" text-anchor="middle">o</text><text transform="translate(588.1 1436.5) scale(0.675 1.000)" text-anchor="middle">w</text><text transform="translate(601.5 1436.5)" text-anchor="middle">t</text><text transform="translate(614.9 1436.5) scale(0.975 1.000)" text-anchor="middle">h</text><text transform="translate(641.7 1436.5)" text-anchor="middle">r</text><text transform="translate(655.1 1436.5)" text-anchor="middle">a</text><text transform="translate(668.5 1436.5)" text-anchor="middle">t</text><text transform="translate(681.9 1436.5)" text-anchor="middle">e</text></g>
<rect x="139.8" y="20.2" width="22.8" height="5.1" fill="#0A64F5"/>
<rect x="179.7" y="20.2" width="22.8" height="5.1" fill="#0A64F5"/>
<rect x="219.2" y="20.2" width="22.8" height="5.1" fill="#0A64F5"/>
<rect x="138" y="270.2" width="22.6" height="5.4" fill="#0A64F5"/>
<rect x="177.5" y="270.2" width="22.6" height="5.4" fill="#0A64F5"/>
<rect x="217" y="270.2" width="22.6" height="5.4" fill="#0A64F5"/>
<rect x="135.3" y="37.9" width="5.4" height="22.5" fill="#0A64F5"/>
<rect x="242.2" y="37.9" width="4.9" height="22.5" fill="#0A64F5"/>
<rect x="135.3" y="77.9" width="5.4" height="22.5" fill="#0A64F5"/>
<rect x="242.2" y="77.9" width="4.9" height="22.5" fill="#0A64F5"/>
<rect x="135.3" y="117.5" width="5.4" height="22.5" fill="#0A64F5"/>
<rect x="242.2" y="117.5" width="4.9" height="22.5" fill="#0A64F5"/>
<rect x="135.3" y="157.4" width="5.4" height="22.5" fill="#0A64F5"/>
<rect x="242.2" y="157.4" width="4.9" height="22.5" fill="#0A64F5"/>
<rect x="135.3" y="196.9" width="5.4" height="22.5" fill="#0A64F5"/>
<rect x="242.2" y="196.9" width="4.9" height="22.5" fill="#0A64F5"/>
<rect x="135.3" y="236.8" width="5.4" height="22.5" fill="#0A64F5"/>
<rect x="242.2" y="236.8" width="4.9" height="22.5" fill="#0A64F5"/>
<rect x="141.2" y="25.3" width="100.7" height="76.7" fill="#B9B5B1"/>
<path d="M148.3 31.8 L231 33.3 L230.2 93.1 L146.8 96 Z" fill="#0F0F0F" stroke="#333" stroke-width="0.8" stroke-linejoin="round"/>
<rect x="141.2" y="110.6" width="98.8" height="81.3" fill="#C2C2C0"/>
<path d="M149 121.2 L228.7 119.8 L229.5 184.7 L151.2 184.7 Z" fill="#232323" stroke="#3a3a3a" stroke-width="0.8" stroke-linejoin="round"/>
<rect x="141" y="196.5" width="99.1" height="73.6" fill="#17A078"/>
<rect x="152.3" y="203.8" width="77.2" height="61.2" fill="none" stroke="#6CC8AA" stroke-width="0.9"/>
<path d="M158.6 209.7 L223.6 209 L225 259.2 L158.6 259.9 Z" fill="#4B2D37"/>
<g font-family='"Liberation Serif", serif' font-size='27.2' stroke="#fff" stroke-width="0.3" transform="rotate(-90)"><text transform="translate(-376.86 57.2) scale(0.865 1.000)" text-anchor="middle">P</text><text transform="translate(-363.78 57.2) scale(0.962 1.000)" text-anchor="middle">o</text><text transform="translate(-350.7 57.2) scale(0.666 1.000)" text-anchor="middle">w</text><text transform="translate(-337.62 57.2)" text-anchor="middle">e</text><text transform="translate(-324.54 57.2)" text-anchor="middle">r</text><text transform="translate(-298.38 57.2) scale(0.962 1.000)" text-anchor="middle">d</text><text transform="translate(-285.3 57.2)" text-anchor="middle">e</text><text transform="translate(-272.22 57.2) scale(0.962 1.000)" text-anchor="middle">n</text><text transform="translate(-259.14 57.2)" text-anchor="middle">s</text><text transform="translate(-246.06 57.2)" text-anchor="middle">i</text><text transform="translate(-232.98 57.2)" text-anchor="middle">t</text><text transform="translate(-219.9 57.2) scale(0.962 1.000)" text-anchor="middle">y</text><text transform="translate(-206.82 58.95) scale(1.350 1.120)" text-anchor="middle">/</text><text transform="translate(-193.74 57.2) scale(0.509 1.000)" text-anchor="middle">W</text><text transform="translate(-167.58 57.2)" text-anchor="middle">c</text><text transform="translate(-154.5 57.2) scale(0.618 1.000)" text-anchor="middle">m</text></g>
<g font-family='"Liberation Serif", serif' font-size='19.5' stroke="#fff" stroke-width="0.3" transform="rotate(-90)"><text transform="translate(-144.2 47) scale(0.782 1.000)" text-anchor="middle">−</text><text transform="translate(-135.6 47) scale(0.882 1.000)" text-anchor="middle">2</text></g>
<g font-family='"Liberation Serif", serif' font-size='28.5' stroke="#fff" stroke-width="0.3" transform="rotate(-90)"><text transform="translate(-347.8 793.7) scale(0.632 1.000)" text-anchor="middle">G</text><text transform="translate(-334.8 793.7)" text-anchor="middle">r</text><text transform="translate(-321.8 793.7) scale(0.912 1.000)" text-anchor="middle">o</text><text transform="translate(-308.8 793.7) scale(0.632 1.000)" text-anchor="middle">w</text><text transform="translate(-295.8 793.7)" text-anchor="middle">t</text><text transform="translate(-282.8 793.7) scale(0.912 1.000)" text-anchor="middle">h</text><text transform="translate(-256.8 793.7)" text-anchor="middle">r</text><text transform="translate(-243.8 793.7)" text-anchor="middle">a</text><text transform="translate(-230.8 793.7)" text-anchor="middle">t</text><text transform="translate(-217.8 793.7)" text-anchor="middle">e</text><text transform="translate(-191.8 795.53) scale(1.350 1.120)" text-anchor="middle">/</text><text transform="translate(-165.8 793.7) scale(0.548 1.000)" text-anchor="middle">%</text></g>
<line x1="117.3" y1="2545.9" x2="117.3" y2="2541.4" stroke="#000" stroke-width="2"/>
<line x1="117.3" y1="2024" x2="117.3" y2="2028.5" stroke="#000" stroke-width="2"/>
<line x1="151.5" y1="2545.9" x2="151.5" y2="2536.4" stroke="#000" stroke-width="2"/>
<line x1="151.5" y1="2024" x2="151.5" y2="2033.5" stroke="#000" stroke-width="2"/>
<line x1="185.7" y1="2545.9" x2="185.7" y2="2541.4" stroke="#000" stroke-width="2"/>
<line x1="185.7" y1="2024" x2="185.7" y2="2028.5" stroke="#000" stroke-width="2"/>
<line x1="219.9" y1="2545.9" x2="219.9" y2="2536.4" stroke="#000" stroke-width="2"/>
<line x1="219.9" y1="2024" x2="219.9" y2="2033.5" stroke="#000" stroke-width="2"/>
<line x1="254.1" y1="2545.9" x2="254.1" y2="2541.4" stroke="#000" stroke-width="2"/>
<line x1="254.1" y1="2024" x2="254.1" y2="2028.5" stroke="#000" stroke-width="2"/>
<line x1="288.3" y1="2545.9" x2="288.3" y2="2536.4" stroke="#000" stroke-width="2"/>
<line x1="288.3" y1="2024" x2="288.3" y2="2033.5" stroke="#000" stroke-width="2"/>
<line x1="322.5" y1="2545.9" x2="322.5" y2="2541.4" stroke="#000" stroke-width="2"/>
<line x1="322.5" y1="2024" x2="322.5" y2="2028.5" stroke="#000" stroke-width="2"/>
<line x1="356.7" y1="2545.9" x2="356.7" y2="2536.4" stroke="#000" stroke-width="2"/>
<line x1="356.7" y1="2024" x2="356.7" y2="2033.5" stroke="#000" stroke-width="2"/>
<line x1="390.9" y1="2545.9" x2="390.9" y2="2541.4" stroke="#000" stroke-width="2"/>
<line x1="390.9" y1="2024" x2="390.9" y2="2028.5" stroke="#000" stroke-width="2"/>
<line x1="425.1" y1="2545.9" x2="425.1" y2="2536.4" stroke="#000" stroke-width="2"/>
<line x1="425.1" y1="2024" x2="425.1" y2="2033.5" stroke="#000" stroke-width="2"/>
<line x1="459.3" y1="2545.9" x2="459.3" y2="2541.4" stroke="#000" stroke-width="2"/>
<line x1="459.3" y1="2024" x2="459.3" y2="2028.5" stroke="#000" stroke-width="2"/>
<line x1="493.5" y1="2545.9" x2="493.5" y2="2536.4" stroke="#000" stroke-width="2"/>
<line x1="493.5" y1="2024" x2="493.5" y2="2033.5" stroke="#000" stroke-width="2"/>
<line x1="527.7" y1="2545.9" x2="527.7" y2="2541.4" stroke="#000" stroke-width="2"/>
<line x1="527.7" y1="2024" x2="527.7" y2="2028.5" stroke="#000" stroke-width="2"/>
<line x1="561.9" y1="2545.9" x2="561.9" y2="2536.4" stroke="#000" stroke-width="2"/>
<line x1="561.9" y1="2024" x2="561.9" y2="2033.5" stroke="#000" stroke-width="2"/>
<line x1="596.1" y1="2545.9" x2="596.1" y2="2541.4" stroke="#000" stroke-width="2"/>
<line x1="596.1" y1="2024" x2="596.1" y2="2028.5" stroke="#000" stroke-width="2"/>
<line x1="630.3" y1="2545.9" x2="630.3" y2="2536.4" stroke="#000" stroke-width="2"/>
<line x1="630.3" y1="2024" x2="630.3" y2="2033.5" stroke="#000" stroke-width="2"/>
<line x1="664.5" y1="2545.9" x2="664.5" y2="2541.4" stroke="#000" stroke-width="2"/>
<line x1="664.5" y1="2024" x2="664.5" y2="2028.5" stroke="#000" stroke-width="2"/>
<line x1="698.7" y1="2545.9" x2="698.7" y2="2536.4" stroke="#000" stroke-width="2"/>
<line x1="698.7" y1="2024" x2="698.7" y2="2033.5" stroke="#000" stroke-width="2"/>
<line x1="82.8" y1="2498.5" x2="92.3" y2="2498.5" stroke="#000" stroke-width="2"/>
<line x1="732.6" y1="2498.5" x2="723.1" y2="2498.5" stroke="#000" stroke-width="2"/>
<line x1="82.8" y1="2451.05" x2="87.3" y2="2451.05" stroke="#000" stroke-width="2"/>
<line x1="732.6" y1="2451.05" x2="728.1" y2="2451.05" stroke="#000" stroke-width="2"/>
<line x1="82.8" y1="2403.6" x2="92.3" y2="2403.6" stroke="#000" stroke-width="2"/>
<line x1="732.6" y1="2403.6" x2="723.1" y2="2403.6" stroke="#000" stroke-width="2"/>
<line x1="82.8" y1="2356.15" x2="87.3" y2="2356.15" stroke="#000" stroke-width="2"/>
<line x1="732.6" y1="2356.15" x2="728.1" y2="2356.15" stroke="#000" stroke-width="2"/>
<line x1="82.8" y1="2308.7" x2="92.3" y2="2308.7" stroke="#000" stroke-width="2"/>
<line x1="732.6" y1="2308.7" x2="723.1" y2="2308.7" stroke="#000" stroke-width="2"/>
<line x1="82.8" y1="2261.25" x2="87.3" y2="2261.25" stroke="#000" stroke-width="2"/>
<line x1="732.6" y1="2261.25" x2="728.1" y2="2261.25" stroke="#000" stroke-width="2"/>
<line x1="82.8" y1="2213.8" x2="92.3" y2="2213.8" stroke="#000" stroke-width="2"/>
<line x1="732.6" y1="2213.8" x2="723.1" y2="2213.8" stroke="#000" stroke-width="2"/>
<line x1="82.8" y1="2166.35" x2="87.3" y2="2166.35" stroke="#000" stroke-width="2"/>
<line x1="732.6" y1="2166.35" x2="728.1" y2="2166.35" stroke="#000" stroke-width="2"/>
<line x1="82.8" y1="2118.9" x2="92.3" y2="2118.9" stroke="#000" stroke-width="2"/>
<line x1="732.6" y1="2118.9" x2="723.1" y2="2118.9" stroke="#000" stroke-width="2"/>
<line x1="82.8" y1="2071.45" x2="87.3" y2="2071.45" stroke="#000" stroke-width="2"/>
<line x1="732.6" y1="2071.45" x2="728.1" y2="2071.45" stroke="#000" stroke-width="2"/>
<rect x="82.8" y="2024" width="649.8" height="521.9" fill="none" stroke="#000" stroke-width="2"/>
<path d="M155.47 2073.17L164.63 2089.18M172.3 2103.22L182 2121.77M192.78 2132.6L247.02 2161.2M261.28 2168.46L315.32 2195.08M330.03 2201.31L485.97 2257.13M501.07 2262.4L554.33 2280.5M569.25 2286.24L588.75 2294.63M603.3 2301.28L657.3 2327.51" fill="none" stroke="#00FF00" stroke-width="2.6" stroke-linecap="butt"/>
<polygon points="151.5,2060.23 157.5,2071.28 145.5,2071.28" fill="#33FF33" stroke="#00FF00" stroke-width="1.3" stroke-linejoin="round"/>
<polygon points="168.6,2090.12 174.6,2101.17 162.6,2101.17" fill="#33FF33" stroke="#00FF00" stroke-width="1.3" stroke-linejoin="round"/>
<polygon points="185.7,2122.86 191.7,2133.91 179.7,2133.91" fill="#33FF33" stroke="#00FF00" stroke-width="1.3" stroke-linejoin="round"/>
<polygon points="254.1,2158.93 260.1,2169.98 248.1,2169.98" fill="#33FF33" stroke="#00FF00" stroke-width="1.3" stroke-linejoin="round"/>
<polygon points="322.5,2192.62 328.5,2203.67 316.5,2203.67" fill="#33FF33" stroke="#00FF00" stroke-width="1.3" stroke-linejoin="round"/>
<polygon points="493.5,2253.83 499.5,2264.88 487.5,2264.88" fill="#33FF33" stroke="#00FF00" stroke-width="1.3" stroke-linejoin="round"/>
<polygon points="561.9,2277.08 567.9,2288.13 555.9,2288.13" fill="#33FF33" stroke="#00FF00" stroke-width="1.3" stroke-linejoin="round"/>
<polygon points="596.1,2291.79 602.1,2302.84 590.1,2302.84" fill="#33FF33" stroke="#00FF00" stroke-width="1.3" stroke-linejoin="round"/>
<polygon points="664.5,2325 670.5,2336.05 658.5,2336.05" fill="#33FF33" stroke="#00FF00" stroke-width="1.3" stroke-linejoin="round"/>
<path d="M154.96 2061.58L165.14 2082.74M174.34 2095.53L179.96 2100.99M193.26 2109.18L246.54 2127.67M261.39 2133.58L315.21 2157.84M330.15 2163.49L485.85 2211.45M501.07 2216.37L554.33 2234.48M569.32 2240.04L588.68 2247.82M603.03 2254.8L657.57 2286.2" fill="none" stroke="#000000" stroke-width="2.6" stroke-linecap="butt"/>
<rect x="147.05" y="2049.92" width="8.9" height="8.9" fill="#000000" stroke="#000000" stroke-width="1.3"/>
<rect x="164.15" y="2085.51" width="8.9" height="8.9" fill="#000000" stroke="#000000" stroke-width="1.3"/>
<rect x="181.25" y="2102.11" width="8.9" height="8.9" fill="#000000" stroke="#000000" stroke-width="1.3"/>
<rect x="249.65" y="2125.84" width="8.9" height="8.9" fill="#000000" stroke="#000000" stroke-width="1.3"/>
<rect x="318.05" y="2156.68" width="8.9" height="8.9" fill="#000000" stroke="#000000" stroke-width="1.3"/>
<rect x="489.05" y="2209.35" width="8.9" height="8.9" fill="#000000" stroke="#000000" stroke-width="1.3"/>
<rect x="557.45" y="2232.6" width="8.9" height="8.9" fill="#000000" stroke="#000000" stroke-width="1.3"/>
<rect x="591.65" y="2246.36" width="8.9" height="8.9" fill="#000000" stroke="#000000" stroke-width="1.3"/>
<rect x="660.05" y="2285.74" width="8.9" height="8.9" fill="#000000" stroke="#000000" stroke-width="1.3"/>
<path d="M156.85 2492.56L163.25 2485.46M173.95 2473.58L180.35 2466.48M191.64 2455.18L248.16 2404.21M260.48 2394.03L316.12 2351.96M329.63 2343.5L486.37 2263.46M501.17 2257.54L554.23 2241.71M569.88 2238.87L588.12 2237.6M604.01 2238.26L656.59 2246.28" fill="none" stroke="#00FF00" stroke-width="2.6" stroke-linecap="butt"/>
<polygon points="151.5,2492.5 157.5,2503.55 145.5,2503.55" fill="#fff" stroke="#00FF00" stroke-width="1.5" stroke-linejoin="round"/>
<polygon points="168.6,2473.52 174.6,2484.57 162.6,2484.57" fill="#fff" stroke="#00FF00" stroke-width="1.5" stroke-linejoin="round"/>
<polygon points="185.7,2454.54 191.7,2465.59 179.7,2465.59" fill="#fff" stroke="#00FF00" stroke-width="1.5" stroke-linejoin="round"/>
<polygon points="254.1,2392.86 260.1,2403.91 248.1,2403.91" fill="#fff" stroke="#00FF00" stroke-width="1.5" stroke-linejoin="round"/>
<polygon points="322.5,2341.13 328.5,2352.18 316.5,2352.18" fill="#fff" stroke="#00FF00" stroke-width="1.5" stroke-linejoin="round"/>
<polygon points="493.5,2253.83 499.5,2264.88 487.5,2264.88" fill="#fff" stroke="#00FF00" stroke-width="1.5" stroke-linejoin="round"/>
<polygon points="561.9,2233.42 567.9,2244.47 555.9,2244.47" fill="#fff" stroke="#00FF00" stroke-width="1.5" stroke-linejoin="round"/>
<polygon points="596.1,2231.05 602.1,2242.1 590.1,2242.1" fill="#fff" stroke="#00FF00" stroke-width="1.5" stroke-linejoin="round"/>
<polygon points="664.5,2241.49 670.5,2252.54 658.5,2252.54" fill="#fff" stroke="#00FF00" stroke-width="1.5" stroke-linejoin="round"/>
<path d="M156.85 2492.56L163.25 2485.46M173.95 2473.58L180.35 2466.48M191.17 2454.7L248.63 2393.31M260.25 2382.35L316.35 2335.65M329.1 2326L486.9 2217.85M500.9 2210.3L554.5 2188.36M569.73 2183.7L588.27 2179.84M604.06 2179.04L656.54 2184.5" fill="none" stroke="#000000" stroke-width="2.6" stroke-linecap="butt"/>
<rect x="147.05" y="2494.05" width="8.9" height="8.9" fill="#fff" stroke="#000000" stroke-width="1.5"/>
<rect x="164.15" y="2475.07" width="8.9" height="8.9" fill="#fff" stroke="#000000" stroke-width="1.5"/>
<rect x="181.25" y="2456.09" width="8.9" height="8.9" fill="#fff" stroke="#000000" stroke-width="1.5"/>
<rect x="249.65" y="2383.02" width="8.9" height="8.9" fill="#fff" stroke="#000000" stroke-width="1.5"/>
<rect x="318.05" y="2326.08" width="8.9" height="8.9" fill="#fff" stroke="#000000" stroke-width="1.5"/>
<rect x="489.05" y="2208.88" width="8.9" height="8.9" fill="#fff" stroke="#000000" stroke-width="1.5"/>
<rect x="557.45" y="2180.88" width="8.9" height="8.9" fill="#fff" stroke="#000000" stroke-width="1.5"/>
<rect x="591.65" y="2173.76" width="8.9" height="8.9" fill="#fff" stroke="#000000" stroke-width="1.5"/>
<rect x="660.05" y="2180.88" width="8.9" height="8.9" fill="#fff" stroke="#000000" stroke-width="1.5"/>
<path d="M155.16 2068.12L164.94 2087.11M173.22 2100.76L181.08 2111.89M193.1 2121.46L246.7 2143.39M261.28 2149.96L315.32 2176.58M330.09 2182.64L485.91 2234.52M501.07 2239.63L554.33 2257.73M569.21 2263.55L588.79 2272.24M603.32 2278.94L657.28 2304.77" fill="none" stroke="#EE3333" stroke-width="2.6" stroke-linecap="butt"/>
<circle cx="151.5" cy="2061.01" r="5.15" fill="#F04040" stroke="#EE3333" stroke-width="1.3"/>
<circle cx="168.6" cy="2094.23" r="5.15" fill="#F04040" stroke="#EE3333" stroke-width="1.3"/>
<circle cx="185.7" cy="2118.43" r="5.15" fill="#F04040" stroke="#EE3333" stroke-width="1.3"/>
<circle cx="254.1" cy="2146.42" r="5.15" fill="#F04040" stroke="#EE3333" stroke-width="1.3"/>
<circle cx="322.5" cy="2180.11" r="5.15" fill="#F04040" stroke="#EE3333" stroke-width="1.3"/>
<circle cx="493.5" cy="2237.05" r="5.15" fill="#F04040" stroke="#EE3333" stroke-width="1.3"/>
<circle cx="561.9" cy="2260.3" r="5.15" fill="#F04040" stroke="#EE3333" stroke-width="1.3"/>
<circle cx="596.1" cy="2275.49" r="5.15" fill="#F04040" stroke="#EE3333" stroke-width="1.3"/>
<circle cx="664.5" cy="2308.23" r="5.15" fill="#F04040" stroke="#EE3333" stroke-width="1.3"/>
<path d="M154.24 2079.44L165.86 2111.38M173.28 2125.39L181.02 2136.14M192.67 2146.54L247.13 2177.14M261.3 2184.55L315.3 2210.78M329.91 2217.3L486.09 2281M501.03 2286.74L554.37 2305.99M569.36 2311.6L588.64 2319.09M603.3 2325.48L657.3 2351.71" fill="none" stroke="#0000FF" stroke-width="2.6" stroke-linecap="butt"/>
<polygon points="158.1,2071.92 147.85,2066.02 147.85,2077.82" fill="#0000FF" stroke="#0000FF" stroke-width="1.3" stroke-linejoin="round"/>
<polygon points="175.2,2118.9 164.95,2113 164.95,2124.8" fill="#0000FF" stroke="#0000FF" stroke-width="1.3" stroke-linejoin="round"/>
<polygon points="192.3,2142.62 182.05,2136.72 182.05,2148.53" fill="#0000FF" stroke="#0000FF" stroke-width="1.3" stroke-linejoin="round"/>
<polygon points="260.7,2181.06 250.45,2175.16 250.45,2186.96" fill="#0000FF" stroke="#0000FF" stroke-width="1.3" stroke-linejoin="round"/>
<polygon points="329.1,2214.27 318.85,2208.37 318.85,2220.17" fill="#0000FF" stroke="#0000FF" stroke-width="1.3" stroke-linejoin="round"/>
<polygon points="500.1,2284.03 489.85,2278.13 489.85,2289.93" fill="#0000FF" stroke="#0000FF" stroke-width="1.3" stroke-linejoin="round"/>
<polygon points="568.5,2308.7 558.25,2302.8 558.25,2314.6" fill="#0000FF" stroke="#0000FF" stroke-width="1.3" stroke-linejoin="round"/>
<polygon points="602.7,2321.99 592.45,2316.09 592.45,2327.89" fill="#0000FF" stroke="#0000FF" stroke-width="1.3" stroke-linejoin="round"/>
<polygon points="671.1,2355.2 660.85,2349.3 660.85,2361.1" fill="#0000FF" stroke="#0000FF" stroke-width="1.3" stroke-linejoin="round"/>
<path d="M156.85 2492.56L163.25 2485.46M173.95 2473.58L180.35 2466.48M191.4 2454.93L248.4 2398.78M260.37 2388.2L316.23 2344.03M329.36 2334.96L486.64 2240.69M501.09 2234.05L554.31 2216.33M569.77 2212.38L588.23 2209.05M604.07 2208.35L656.53 2213.08" fill="none" stroke="#FF0000" stroke-width="2.6" stroke-linecap="butt"/>
<circle cx="151.5" cy="2498.5" r="5.15" fill="#fff" stroke="#FF0000" stroke-width="1.5"/>
<circle cx="168.6" cy="2479.52" r="5.15" fill="#fff" stroke="#FF0000" stroke-width="1.5"/>
<circle cx="185.7" cy="2460.54" r="5.15" fill="#fff" stroke="#FF0000" stroke-width="1.5"/>
<circle cx="254.1" cy="2393.16" r="5.15" fill="#fff" stroke="#FF0000" stroke-width="1.5"/>
<circle cx="322.5" cy="2339.07" r="5.15" fill="#fff" stroke="#FF0000" stroke-width="1.5"/>
<circle cx="493.5" cy="2236.58" r="5.15" fill="#fff" stroke="#FF0000" stroke-width="1.5"/>
<circle cx="561.9" cy="2213.8" r="5.15" fill="#fff" stroke="#FF0000" stroke-width="1.5"/>
<circle cx="596.1" cy="2207.63" r="5.15" fill="#fff" stroke="#FF0000" stroke-width="1.5"/>
<circle cx="664.5" cy="2213.8" r="5.15" fill="#fff" stroke="#FF0000" stroke-width="1.5"/>
<path d="M156.85 2492.56L163.25 2485.46M174.34 2473.95L179.96 2468.49M191.72 2457.65L248.08 2408.39M260.69 2398.6L315.91 2360.68M329.87 2353.04L486.13 2287.13M501.35 2282.5L554.05 2272.27M569.9 2270.63L588.1 2270.38M603.92 2271.95L656.68 2283.29" fill="none" stroke="#0000FF" stroke-width="2.6" stroke-linecap="butt"/>
<polygon points="158.1,2498.5 147.85,2492.6 147.85,2504.4" fill="#fff" stroke="#0000FF" stroke-width="1.5" stroke-linejoin="round"/>
<polygon points="175.2,2479.52 164.95,2473.62 164.95,2485.42" fill="#fff" stroke="#0000FF" stroke-width="1.5" stroke-linejoin="round"/>
<polygon points="192.3,2462.91 182.05,2457.01 182.05,2468.81" fill="#fff" stroke="#0000FF" stroke-width="1.5" stroke-linejoin="round"/>
<polygon points="260.7,2403.13 250.45,2397.23 250.45,2409.03" fill="#fff" stroke="#0000FF" stroke-width="1.5" stroke-linejoin="round"/>
<polygon points="329.1,2356.15 318.85,2350.25 318.85,2362.05" fill="#fff" stroke="#0000FF" stroke-width="1.5" stroke-linejoin="round"/>
<polygon points="500.1,2284.03 489.85,2278.13 489.85,2289.93" fill="#fff" stroke="#0000FF" stroke-width="1.5" stroke-linejoin="round"/>
<polygon points="568.5,2270.74 558.25,2264.84 558.25,2276.64" fill="#fff" stroke="#0000FF" stroke-width="1.5" stroke-linejoin="round"/>
<polygon points="602.7,2270.27 592.45,2264.37 592.45,2276.17" fill="#fff" stroke="#0000FF" stroke-width="1.5" stroke-linejoin="round"/>
<polygon points="671.1,2284.97 660.85,2279.07 660.85,2290.88" fill="#fff" stroke="#0000FF" stroke-width="1.5" stroke-linejoin="round"/>
<rect x="353.5" y="2354.6" width="290.7" height="175.8" fill="#fff" stroke="#333" stroke-width="1.1"/>
<line x1="364.8" y1="2366.5" x2="378.2" y2="2366.5" stroke="#00FF00" stroke-width="2.5"/>
<line x1="391.4" y1="2366.5" x2="404.4" y2="2366.5" stroke="#00FF00" stroke-width="2.5"/>
<polygon points="384.7,2358.9 391,2370.5 378.4,2370.5" fill="#33FF33" stroke="#00FF00" stroke-width="1.3" stroke-linejoin="round"/>
<g font-family='"Liberation Serif", serif' font-size='20.6' stroke="#fff" stroke-width="0.3"><text transform="translate(419.45 2372.5) scale(0.665 1.000)" text-anchor="middle">V</text><text transform="translate(429.35 2372.5) scale(0.961 1.000)" text-anchor="middle">o</text><text transform="translate(439.25 2372.5)" text-anchor="middle">l</text><text transform="translate(449.15 2372.5)" text-anchor="middle">t</text><text transform="translate(459.05 2372.5)" text-anchor="middle">a</text><text transform="translate(468.95 2372.5) scale(0.961 1.000)" text-anchor="middle">g</text><text transform="translate(478.85 2372.5)" text-anchor="middle">e</text></g>
<text x="487.36" y="2372.5" font-size="20.6" font-family='"Liberation Serif", serif' text-anchor="middle">:</text>
<g font-family='"Liberation Serif", serif' font-size='20.6' stroke="#fff" stroke-width="0.3"><text transform="translate(508.55 2372.5) scale(0.787 1.000)" text-anchor="middle">T</text><text transform="translate(518.45 2372.5) scale(0.852 1.000)" text-anchor="middle">=</text><text transform="translate(528.35 2372.5) scale(0.961 1.000)" text-anchor="middle">8</text><text transform="translate(538.25 2372.5) scale(0.961 1.000)" text-anchor="middle">0</text></g>
<circle cx="547.16" cy="2360.9" r="1.75" fill="none" stroke="#000" stroke-width="1"/>
<g font-family='"Liberation Serif", serif' font-size='20.6' stroke="#fff" stroke-width="0.3"><text transform="translate(554.88 2372.5) scale(0.793 1.000)" text-anchor="middle">C</text></g>
<text x="566.56" y="2372.5" font-size="20.6" font-family='"Liberation Serif", serif' text-anchor="middle">;</text>
<g font-family='"Liberation Serif", serif' font-size='20.6' stroke="#fff" stroke-width="0.3"><text transform="translate(587.75 2372.5) scale(0.721 1.000)" text-anchor="middle">R</text><text transform="translate(597.65 2372.5) scale(0.665 1.000)" text-anchor="middle">H</text><text transform="translate(607.55 2372.5) scale(0.852 1.000)" text-anchor="middle">=</text><text transform="translate(617.45 2372.5) scale(0.961 1.000)" text-anchor="middle">3</text><text transform="translate(627.35 2372.5) scale(0.961 1.000)" text-anchor="middle">0</text><text transform="translate(637.25 2372.5) scale(0.577 1.000)" text-anchor="middle">%</text></g>
<line x1="364.8" y1="2388" x2="378.2" y2="2388" stroke="#000000" stroke-width="2.5"/>
<line x1="391.4" y1="2388" x2="404.4" y2="2388" stroke="#000000" stroke-width="2.5"/>
<rect x="380.47" y="2383.77" width="8.46" height="8.46" fill="#000000" stroke="#000000" stroke-width="1.3"/>
<g font-family='"Liberation Serif", serif' font-size='20.6' stroke="#fff" stroke-width="0.3"><text transform="translate(419.45 2394) scale(0.665 1.000)" text-anchor="middle">V</text><text transform="translate(429.35 2394) scale(0.961 1.000)" text-anchor="middle">o</text><text transform="translate(439.25 2394)" text-anchor="middle">l</text><text transform="translate(449.15 2394)" text-anchor="middle">t</text><text transform="translate(459.05 2394)" text-anchor="middle">a</text><text transform="translate(468.95 2394) scale(0.961 1.000)" text-anchor="middle">g</text><text transform="translate(478.85 2394)" text-anchor="middle">e</text></g>
<text x="487.36" y="2394" font-size="20.6" font-family='"Liberation Serif", serif' text-anchor="middle">:</text>
<g font-family='"Liberation Serif", serif' font-size='20.6' stroke="#fff" stroke-width="0.3"><text transform="translate(508.55 2394) scale(0.787 1.000)" text-anchor="middle">T</text><text transform="translate(518.45 2394) scale(0.852 1.000)" text-anchor="middle">=</text><text transform="translate(528.35 2394) scale(0.961 1.000)" text-anchor="middle">7</text><text transform="translate(538.25 2394) scale(0.961 1.000)" text-anchor="middle">0</text></g>
<circle cx="547.16" cy="2382.4" r="1.75" fill="none" stroke="#000" stroke-width="1"/>
<g font-family='"Liberation Serif", serif' font-size='20.6' stroke="#fff" stroke-width="0.3"><text transform="translate(554.88 2394) scale(0.793 1.000)" text-anchor="middle">C</text></g>
<text x="566.56" y="2394" font-size="20.6" font-family='"Liberation Serif", serif' text-anchor="middle">;</text>
<g font-family='"Liberation Serif", serif' font-size='20.6' stroke="#fff" stroke-width="0.3"><text transform="translate(587.75 2394) scale(0.721 1.000)" text-anchor="middle">R</text><text transform="translate(597.65 2394) scale(0.665 1.000)" text-anchor="middle">H</text><text transform="translate(607.55 2394) scale(0.852 1.000)" text-anchor="middle">=</text><text transform="translate(617.45 2394) scale(0.961 1.000)" text-anchor="middle">5</text><text transform="translate(627.35 2394) scale(0.961 1.000)" text-anchor="middle">0</text><text transform="translate(637.25 2394) scale(0.577 1.000)" text-anchor="middle">%</text></g>
<line x1="364.8" y1="2409.5" x2="378.2" y2="2409.5" stroke="#00FF00" stroke-width="2.5"/>
<line x1="391.4" y1="2409.5" x2="404.4" y2="2409.5" stroke="#00FF00" stroke-width="2.5"/>
<polygon points="384.7,2401.9 391,2413.5 378.4,2413.5" fill="#fff" stroke="#00FF00" stroke-width="1.5" stroke-linejoin="round"/>
<g font-family='"Liberation Serif", serif' font-size='20.6' stroke="#fff" stroke-width="0.3"><text transform="translate(419.45 2415.5) scale(0.864 1.000)" text-anchor="middle">P</text><text transform="translate(429.35 2415.5) scale(0.961 1.000)" text-anchor="middle">d</text></g>
<text x="437.86" y="2415.5" font-size="20.6" font-family='"Liberation Serif", serif' text-anchor="middle">:</text>
<g font-family='"Liberation Serif", serif' font-size='20.6' stroke="#fff" stroke-width="0.3"><text transform="translate(459.05 2415.5) scale(0.787 1.000)" text-anchor="middle">T</text><text transform="translate(468.95 2415.5) scale(0.852 1.000)" text-anchor="middle">=</text><text transform="translate(478.85 2415.5) scale(0.961 1.000)" text-anchor="middle">7</text><text transform="translate(488.75 2415.5) scale(0.961 1.000)" text-anchor="middle">0</text></g>
<circle cx="497.66" cy="2403.9" r="1.75" fill="none" stroke="#000" stroke-width="1"/>
<g font-family='"Liberation Serif", serif' font-size='20.6' stroke="#fff" stroke-width="0.3"><text transform="translate(505.38 2415.5) scale(0.793 1.000)" text-anchor="middle">C</text></g>
<text x="517.06" y="2415.5" font-size="20.6" font-family='"Liberation Serif", serif' text-anchor="middle">;</text>
<g font-family='"Liberation Serif", serif' font-size='20.6' stroke="#fff" stroke-width="0.3"><text transform="translate(538.25 2415.5) scale(0.721 1.000)" text-anchor="middle">R</text><text transform="translate(548.15 2415.5) scale(0.665 1.000)" text-anchor="middle">H</text><text transform="translate(558.05 2415.5) scale(0.852 1.000)" text-anchor="middle">=</text><text transform="translate(567.95 2415.5) scale(0.961 1.000)" text-anchor="middle">5</text><text transform="translate(577.85 2415.5) scale(0.961 1.000)" text-anchor="middle">0</text><text transform="translate(587.75 2415.5) scale(0.577 1.000)" text-anchor="middle">%</text></g>
<line x1="364.8" y1="2431" x2="378.2" y2="2431" stroke="#000000" stroke-width="2.5"/>
<line x1="391.4" y1="2431" x2="404.4" y2="2431" stroke="#000000" stroke-width="2.5"/>
<rect x="380.47" y="2426.77" width="8.46" height="8.46" fill="#fff" stroke="#000000" stroke-width="1.5"/>
<g font-family='"Liberation Serif", serif' font-size='20.6' stroke="#fff" stroke-width="0.3"><text transform="translate(419.45 2437) scale(0.864 1.000)" text-anchor="middle">P</text><text transform="translate(429.35 2437) scale(0.961 1.000)" text-anchor="middle">d</text></g>
<text x="437.86" y="2437" font-size="20.6" font-family='"Liberation Serif", serif' text-anchor="middle">:</text>
<g font-family='"Liberation Serif", serif' font-size='20.6' stroke="#fff" stroke-width="0.3"><text transform="translate(459.05 2437) scale(0.787 1.000)" text-anchor="middle">T</text><text transform="translate(468.95 2437) scale(0.852 1.000)" text-anchor="middle">=</text><text transform="translate(478.85 2437) scale(0.961 1.000)" text-anchor="middle">7</text><text transform="translate(488.75 2437) scale(0.961 1.000)" text-anchor="middle">0</text></g>
<circle cx="497.66" cy="2425.4" r="1.75" fill="none" stroke="#000" stroke-width="1"/>
<g font-family='"Liberation Serif", serif' font-size='20.6' stroke="#fff" stroke-width="0.3"><text transform="translate(505.38 2437) scale(0.793 1.000)" text-anchor="middle">C</text></g>
<text x="517.06" y="2437" font-size="20.6" font-family='"Liberation Serif", serif' text-anchor="middle">;</text>
<g font-family='"Liberation Serif", serif' font-size='20.6' stroke="#fff" stroke-width="0.3"><text transform="translate(538.25 2437) scale(0.721 1.000)" text-anchor="middle">R</text><text transform="translate(548.15 2437) scale(0.665 1.000)" text-anchor="middle">H</text><text transform="translate(558.05 2437) scale(0.852 1.000)" text-anchor="middle">=</text><text transform="translate(567.95 2437) scale(0.961 1.000)" text-anchor="middle">5</text><text transform="translate(577.85 2437) scale(0.961 1.000)" text-anchor="middle">0</text><text transform="translate(587.75 2437) scale(0.577 1.000)" text-anchor="middle">%</text></g>
<line x1="364.8" y1="2452.6" x2="378.2" y2="2452.6" stroke="#EE3333" stroke-width="2.5"/>
<line x1="391.4" y1="2452.6" x2="404.4" y2="2452.6" stroke="#EE3333" stroke-width="2.5"/>
<circle cx="384.7" cy="2452.6" r="4.89" fill="#F04040" stroke="#EE3333" stroke-width="1.3"/>
<g font-family='"Liberation Serif", serif' font-size='20.6' stroke="#fff" stroke-width="0.3"><text transform="translate(419.45 2458.6) scale(0.665 1.000)" text-anchor="middle">V</text><text transform="translate(429.35 2458.6) scale(0.961 1.000)" text-anchor="middle">o</text><text transform="translate(439.25 2458.6)" text-anchor="middle">l</text><text transform="translate(449.15 2458.6)" text-anchor="middle">t</text><text transform="translate(459.05 2458.6)" text-anchor="middle">a</text><text transform="translate(468.95 2458.6) scale(0.961 1.000)" text-anchor="middle">g</text><text transform="translate(478.85 2458.6)" text-anchor="middle">e</text></g>
<text x="487.36" y="2458.6" font-size="20.6" font-family='"Liberation Serif", serif' text-anchor="middle">:</text>
<g font-family='"Liberation Serif", serif' font-size='20.6' stroke="#fff" stroke-width="0.3"><text transform="translate(508.55 2458.6) scale(0.787 1.000)" text-anchor="middle">T</text><text transform="translate(518.45 2458.6) scale(0.852 1.000)" text-anchor="middle">=</text><text transform="translate(528.35 2458.6) scale(0.961 1.000)" text-anchor="middle">7</text><text transform="translate(538.25 2458.6) scale(0.961 1.000)" text-anchor="middle">0</text></g>
<circle cx="547.16" cy="2447" r="1.75" fill="none" stroke="#000" stroke-width="1"/>
<g font-family='"Liberation Serif", serif' font-size='20.6' stroke="#fff" stroke-width="0.3"><text transform="translate(554.88 2458.6) scale(0.793 1.000)" text-anchor="middle">C</text></g>
<text x="566.56" y="2458.6" font-size="20.6" font-family='"Liberation Serif", serif' text-anchor="middle">;</text>
<g font-family='"Liberation Serif", serif' font-size='20.6' stroke="#fff" stroke-width="0.3"><text transform="translate(587.75 2458.6) scale(0.721 1.000)" text-anchor="middle">R</text><text transform="translate(597.65 2458.6) scale(0.665 1.000)" text-anchor="middle">H</text><text transform="translate(607.55 2458.6) scale(0.852 1.000)" text-anchor="middle">=</text><text transform="translate(617.45 2458.6) scale(0.961 1.000)" text-anchor="middle">5</text><text transform="translate(627.35 2458.6) scale(0.961 1.000)" text-anchor="middle">0</text><text transform="translate(637.25 2458.6) scale(0.577 1.000)" text-anchor="middle">%</text></g>
<line x1="364.8" y1="2474.2" x2="378.2" y2="2474.2" stroke="#0000FF" stroke-width="2.5"/>
<line x1="391.4" y1="2474.2" x2="404.4" y2="2474.2" stroke="#0000FF" stroke-width="2.5"/>
<polygon points="390.97,2474.2 381.23,2468.59 381.23,2479.8" fill="#0000FF" stroke="#0000FF" stroke-width="1.3" stroke-linejoin="round"/>
<g font-family='"Liberation Serif", serif' font-size='20.6' stroke="#fff" stroke-width="0.3"><text transform="translate(419.45 2480.2) scale(0.665 1.000)" text-anchor="middle">V</text><text transform="translate(429.35 2480.2) scale(0.961 1.000)" text-anchor="middle">o</text><text transform="translate(439.25 2480.2)" text-anchor="middle">l</text><text transform="translate(449.15 2480.2)" text-anchor="middle">t</text><text transform="translate(459.05 2480.2)" text-anchor="middle">a</text><text transform="translate(468.95 2480.2) scale(0.961 1.000)" text-anchor="middle">g</text><text transform="translate(478.85 2480.2)" text-anchor="middle">e</text></g>
<text x="487.36" y="2480.2" font-size="20.6" font-family='"Liberation Serif", serif' text-anchor="middle">:</text>
<g font-family='"Liberation Serif", serif' font-size='20.6' stroke="#fff" stroke-width="0.3"><text transform="translate(508.55 2480.2) scale(0.787 1.000)" text-anchor="middle">T</text><text transform="translate(518.45 2480.2) scale(0.852 1.000)" text-anchor="middle">=</text><text transform="translate(528.35 2480.2) scale(0.961 1.000)" text-anchor="middle">8</text><text transform="translate(538.25 2480.2) scale(0.961 1.000)" text-anchor="middle">0</text></g>
<circle cx="547.16" cy="2468.6" r="1.75" fill="none" stroke="#000" stroke-width="1"/>
<g font-family='"Liberation Serif", serif' font-size='20.6' stroke="#fff" stroke-width="0.3"><text transform="translate(554.88 2480.2) scale(0.793 1.000)" text-anchor="middle">C</text></g>
<text x="566.56" y="2480.2" font-size="20.6" font-family='"Liberation Serif", serif' text-anchor="middle">;</text>
<g font-family='"Liberation Serif", serif' font-size='20.6' stroke="#fff" stroke-width="0.3"><text transform="translate(587.75 2480.2) scale(0.721 1.000)" text-anchor="middle">R</text><text transform="translate(597.65 2480.2) scale(0.665 1.000)" text-anchor="middle">H</text><text transform="translate(607.55 2480.2) scale(0.852 1.000)" text-anchor="middle">=</text><text transform="translate(617.45 2480.2) scale(0.961 1.000)" text-anchor="middle">3</text><text transform="translate(627.35 2480.2) scale(0.961 1.000)" text-anchor="middle">0</text><text transform="translate(637.25 2480.2) scale(0.577 1.000)" text-anchor="middle">%</text></g>
<line x1="364.8" y1="2495.8" x2="378.2" y2="2495.8" stroke="#FF0000" stroke-width="2.5"/>
<line x1="391.4" y1="2495.8" x2="404.4" y2="2495.8" stroke="#FF0000" stroke-width="2.5"/>
<circle cx="384.7" cy="2495.8" r="4.89" fill="#fff" stroke="#FF0000" stroke-width="1.5"/>
<g font-family='"Liberation Serif", serif' font-size='20.6' stroke="#fff" stroke-width="0.3"><text transform="translate(419.45 2501.8) scale(0.864 1.000)" text-anchor="middle">P</text><text transform="translate(429.35 2501.8) scale(0.961 1.000)" text-anchor="middle">d</text></g>
<text x="437.86" y="2501.8" font-size="20.6" font-family='"Liberation Serif", serif' text-anchor="middle">:</text>
<g font-family='"Liberation Serif", serif' font-size='20.6' stroke="#fff" stroke-width="0.3"><text transform="translate(459.05 2501.8) scale(0.787 1.000)" text-anchor="middle">T</text><text transform="translate(468.95 2501.8) scale(0.852 1.000)" text-anchor="middle">=</text><text transform="translate(478.85 2501.8) scale(0.961 1.000)" text-anchor="middle">7</text><text transform="translate(488.75 2501.8) scale(0.961 1.000)" text-anchor="middle">0</text></g>
<circle cx="497.66" cy="2490.2" r="1.75" fill="none" stroke="#000" stroke-width="1"/>
<g font-family='"Liberation Serif", serif' font-size='20.6' stroke="#fff" stroke-width="0.3"><text transform="translate(505.38 2501.8) scale(0.793 1.000)" text-anchor="middle">C</text></g>
<text x="517.06" y="2501.8" font-size="20.6" font-family='"Liberation Serif", serif' text-anchor="middle">;</text>
<g font-family='"Liberation Serif", serif' font-size='20.6' stroke="#fff" stroke-width="0.3"><text transform="translate(538.25 2501.8) scale(0.721 1.000)" text-anchor="middle">R</text><text transform="translate(548.15 2501.8) scale(0.665 1.000)" text-anchor="middle">H</text><text transform="translate(558.05 2501.8) scale(0.852 1.000)" text-anchor="middle">=</text><text transform="translate(567.95 2501.8) scale(0.961 1.000)" text-anchor="middle">3</text><text transform="translate(577.85 2501.8) scale(0.961 1.000)" text-anchor="middle">0</text><text transform="translate(587.75 2501.8) scale(0.577 1.000)" text-anchor="middle">%</text></g>
<line x1="364.8" y1="2517.4" x2="378.2" y2="2517.4" stroke="#0000FF" stroke-width="2.5"/>
<line x1="391.4" y1="2517.4" x2="404.4" y2="2517.4" stroke="#0000FF" stroke-width="2.5"/>
<polygon points="390.97,2517.4 381.23,2511.8 381.23,2523.01" fill="#fff" stroke="#0000FF" stroke-width="1.5" stroke-linejoin="round"/>
<g font-family='"Liberation Serif", serif' font-size='20.6' stroke="#fff" stroke-width="0.3"><text transform="translate(419.45 2523.4) scale(0.864 1.000)" text-anchor="middle">P</text><text transform="translate(429.35 2523.4) scale(0.961 1.000)" text-anchor="middle">d</text></g>
<text x="437.86" y="2523.4" font-size="20.6" font-family='"Liberation Serif", serif' text-anchor="middle">:</text>
<g font-family='"Liberation Serif", serif' font-size='20.6' stroke="#fff" stroke-width="0.3"><text transform="translate(459.05 2523.4) scale(0.787 1.000)" text-anchor="middle">T</text><text transform="translate(468.95 2523.4) scale(0.852 1.000)" text-anchor="middle">=</text><text transform="translate(478.85 2523.4) scale(0.961 1.000)" text-anchor="middle">7</text><text transform="translate(488.75 2523.4) scale(0.961 1.000)" text-anchor="middle">0</text></g>
<circle cx="497.66" cy="2511.8" r="1.75" fill="none" stroke="#000" stroke-width="1"/>
<g font-family='"Liberation Serif", serif' font-size='20.6' stroke="#fff" stroke-width="0.3"><text transform="translate(505.38 2523.4) scale(0.793 1.000)" text-anchor="middle">C</text></g>
<text x="517.06" y="2523.4" font-size="20.6" font-family='"Liberation Serif", serif' text-anchor="middle">;</text>
<g font-family='"Liberation Serif", serif' font-size='20.6' stroke="#fff" stroke-width="0.3"><text transform="translate(538.25 2523.4) scale(0.721 1.000)" text-anchor="middle">R</text><text transform="translate(548.15 2523.4) scale(0.665 1.000)" text-anchor="middle">H</text><text transform="translate(558.05 2523.4) scale(0.852 1.000)" text-anchor="middle">=</text><text transform="translate(567.95 2523.4) scale(0.961 1.000)" text-anchor="middle">5</text><text transform="translate(577.85 2523.4) scale(0.961 1.000)" text-anchor="middle">0</text><text transform="translate(587.75 2523.4) scale(0.577 1.000)" text-anchor="middle">%</text></g>
<g font-family='"Liberation Serif", serif' font-size='24' stroke="#fff" stroke-width="0.3"><text transform="translate(66.15 2576.8) scale(0.835 1.000)" text-anchor="middle">−</text><text transform="translate(77.45 2576.8) scale(0.942 1.000)" text-anchor="middle">0</text><text transform="translate(86.49 2576.8)" text-anchor="middle">.</text><text transform="translate(100.05 2576.8) scale(0.942 1.000)" text-anchor="middle">2</text></g>
<g font-family='"Liberation Serif", serif' font-size='24' stroke="#fff" stroke-width="0.3"><text transform="translate(139.25 2576.8) scale(0.942 1.000)" text-anchor="middle">0</text><text transform="translate(148.29 2576.8)" text-anchor="middle">.</text><text transform="translate(161.85 2576.8) scale(0.942 1.000)" text-anchor="middle">0</text></g>
<g font-family='"Liberation Serif", serif' font-size='24' stroke="#fff" stroke-width="0.3"><text transform="translate(207.65 2576.8) scale(0.942 1.000)" text-anchor="middle">0</text><text transform="translate(216.69 2576.8)" text-anchor="middle">.</text><text transform="translate(230.25 2576.8) scale(0.942 1.000)" text-anchor="middle">2</text></g>
<g font-family='"Liberation Serif", serif' font-size='24' stroke="#fff" stroke-width="0.3"><text transform="translate(276.05 2576.8) scale(0.942 1.000)" text-anchor="middle">0</text><text transform="translate(285.09 2576.8)" text-anchor="middle">.</text><text transform="translate(298.65 2576.8) scale(0.942 1.000)" text-anchor="middle">4</text></g>
<g font-family='"Liberation Serif", serif' font-size='24' stroke="#fff" stroke-width="0.3"><text transform="translate(344.45 2576.8) scale(0.942 1.000)" text-anchor="middle">0</text><text transform="translate(353.49 2576.8)" text-anchor="middle">.</text><text transform="translate(367.05 2576.8) scale(0.942 1.000)" text-anchor="middle">6</text></g>
<g font-family='"Liberation Serif", serif' font-size='24' stroke="#fff" stroke-width="0.3"><text transform="translate(412.85 2576.8) scale(0.942 1.000)" text-anchor="middle">0</text><text transform="translate(421.89 2576.8)" text-anchor="middle">.</text><text transform="translate(435.45 2576.8) scale(0.942 1.000)" text-anchor="middle">8</text></g>
<g font-family='"Liberation Serif", serif' font-size='24' stroke="#fff" stroke-width="0.3"><text transform="translate(481.25 2576.8) scale(0.942 1.000)" text-anchor="middle">1</text><text transform="translate(490.29 2576.8)" text-anchor="middle">.</text><text transform="translate(503.85 2576.8) scale(0.942 1.000)" text-anchor="middle">0</text></g>
<g font-family='"Liberation Serif", serif' font-size='24' stroke="#fff" stroke-width="0.3"><text transform="translate(549.65 2576.8) scale(0.942 1.000)" text-anchor="middle">1</text><text transform="translate(558.69 2576.8)" text-anchor="middle">.</text><text transform="translate(572.25 2576.8) scale(0.942 1.000)" text-anchor="middle">2</text></g>
<g font-family='"Liberation Serif", serif' font-size='24' stroke="#fff" stroke-width="0.3"><text transform="translate(618.05 2576.8) scale(0.942 1.000)" text-anchor="middle">1</text><text transform="translate(627.09 2576.8)" text-anchor="middle">.</text><text transform="translate(640.65 2576.8) scale(0.942 1.000)" text-anchor="middle">4</text></g>
<g font-family='"Liberation Serif", serif' font-size='24' stroke="#fff" stroke-width="0.3"><text transform="translate(686.45 2576.8) scale(0.942 1.000)" text-anchor="middle">1</text><text transform="translate(695.49 2576.8)" text-anchor="middle">.</text><text transform="translate(709.05 2576.8) scale(0.942 1.000)" text-anchor="middle">6</text></g>
<g font-family='"Liberation Serif", serif' font-size='23.7' stroke="#fff" stroke-width="0.3"><text transform="translate(43.55 2506.7) scale(0.954 1.000)" text-anchor="middle">0</text><text transform="translate(52.59 2506.7)" text-anchor="middle">.</text><text transform="translate(66.15 2506.7) scale(0.954 1.000)" text-anchor="middle">0</text></g>
<g font-family='"Liberation Serif", serif' font-size='23.7' stroke="#fff" stroke-width="0.3"><text transform="translate(749.85 2506.7) scale(0.954 1.000)" text-anchor="middle">0</text><text transform="translate(758.89 2506.7)" text-anchor="middle">.</text><text transform="translate(772.45 2506.7) scale(0.954 1.000)" text-anchor="middle">0</text></g>
<g font-family='"Liberation Serif", serif' font-size='23.7' stroke="#fff" stroke-width="0.3"><text transform="translate(43.55 2411.8) scale(0.954 1.000)" text-anchor="middle">0</text><text transform="translate(52.59 2411.8)" text-anchor="middle">.</text><text transform="translate(66.15 2411.8) scale(0.954 1.000)" text-anchor="middle">2</text></g>
<g font-family='"Liberation Serif", serif' font-size='23.7' stroke="#fff" stroke-width="0.3"><text transform="translate(749.85 2411.8) scale(0.954 1.000)" text-anchor="middle">0</text><text transform="translate(758.89 2411.8)" text-anchor="middle">.</text><text transform="translate(772.45 2411.8) scale(0.954 1.000)" text-anchor="middle">2</text></g>
<g font-family='"Liberation Serif", serif' font-size='23.7' stroke="#fff" stroke-width="0.3"><text transform="translate(43.55 2316.9) scale(0.954 1.000)" text-anchor="middle">0</text><text transform="translate(52.59 2316.9)" text-anchor="middle">.</text><text transform="translate(66.15 2316.9) scale(0.954 1.000)" text-anchor="middle">4</text></g>
<g font-family='"Liberation Serif", serif' font-size='23.7' stroke="#fff" stroke-width="0.3"><text transform="translate(749.85 2316.9) scale(0.954 1.000)" text-anchor="middle">0</text><text transform="translate(758.89 2316.9)" text-anchor="middle">.</text><text transform="translate(772.45 2316.9) scale(0.954 1.000)" text-anchor="middle">4</text></g>
<g font-family='"Liberation Serif", serif' font-size='23.7' stroke="#fff" stroke-width="0.3"><text transform="translate(43.55 2222) scale(0.954 1.000)" text-anchor="middle">0</text><text transform="translate(52.59 2222)" text-anchor="middle">.</text><text transform="translate(66.15 2222) scale(0.954 1.000)" text-anchor="middle">6</text></g>
<g font-family='"Liberation Serif", serif' font-size='23.7' stroke="#fff" stroke-width="0.3"><text transform="translate(749.85 2222) scale(0.954 1.000)" text-anchor="middle">0</text><text transform="translate(758.89 2222)" text-anchor="middle">.</text><text transform="translate(772.45 2222) scale(0.954 1.000)" text-anchor="middle">6</text></g>
<g font-family='"Liberation Serif", serif' font-size='23.7' stroke="#fff" stroke-width="0.3"><text transform="translate(43.55 2127.1) scale(0.954 1.000)" text-anchor="middle">0</text><text transform="translate(52.59 2127.1)" text-anchor="middle">.</text><text transform="translate(66.15 2127.1) scale(0.954 1.000)" text-anchor="middle">8</text></g>
<g font-family='"Liberation Serif", serif' font-size='23.7' stroke="#fff" stroke-width="0.3"><text transform="translate(749.85 2127.1) scale(0.954 1.000)" text-anchor="middle">0</text><text transform="translate(758.89 2127.1)" text-anchor="middle">.</text><text transform="translate(772.45 2127.1) scale(0.954 1.000)" text-anchor="middle">8</text></g>
<g font-family='"Liberation Serif", serif' font-size='23.7' stroke="#fff" stroke-width="0.3"><text transform="translate(43.55 2032.2) scale(0.954 1.000)" text-anchor="middle">1</text><text transform="translate(52.59 2032.2)" text-anchor="middle">.</text><text transform="translate(66.15 2032.2) scale(0.954 1.000)" text-anchor="middle">0</text></g>
<g font-family='"Liberation Serif", serif' font-size='23.7' stroke="#fff" stroke-width="0.3"><text transform="translate(749.85 2032.2) scale(0.954 1.000)" text-anchor="middle">1</text><text transform="translate(758.89 2032.2)" text-anchor="middle">.</text><text transform="translate(772.45 2032.2) scale(0.954 1.000)" text-anchor="middle">0</text></g>
<g font-family='"Liberation Serif", serif' font-size='30.5' stroke="#fff" stroke-width="0.3" transform="rotate(-90)"><text transform="translate(-2358.82 22.7) scale(0.670 1.000)" text-anchor="middle">V</text><text transform="translate(-2344.07 22.7) scale(0.967 1.000)" text-anchor="middle">o</text><text transform="translate(-2329.32 22.7)" text-anchor="middle">l</text><text transform="translate(-2314.57 22.7)" text-anchor="middle">t</text><text transform="translate(-2299.82 22.7)" text-anchor="middle">a</text><text transform="translate(-2285.07 22.7) scale(0.967 1.000)" text-anchor="middle">g</text><text transform="translate(-2270.32 22.7)" text-anchor="middle">e</text><text transform="translate(-2240.82 24.66) scale(1.350 1.120)" text-anchor="middle">/</text><text transform="translate(-2211.32 22.7) scale(0.670 1.000)" text-anchor="middle">V</text></g>
<g font-family='"Liberation Serif", serif' font-size='31' stroke="#fff" stroke-width="0.3" transform="rotate(-90)"><text transform="translate(-2435.01 812) scale(0.857 1.000)" text-anchor="middle">P</text><text transform="translate(-2420.24 812) scale(0.953 1.000)" text-anchor="middle">o</text><text transform="translate(-2405.47 812) scale(0.660 1.000)" text-anchor="middle">w</text><text transform="translate(-2390.7 812)" text-anchor="middle">e</text><text transform="translate(-2375.93 812)" text-anchor="middle">r</text><text transform="translate(-2346.39 812) scale(0.953 1.000)" text-anchor="middle">d</text><text transform="translate(-2331.62 812)" text-anchor="middle">e</text><text transform="translate(-2316.86 812) scale(0.953 1.000)" text-anchor="middle">n</text><text transform="translate(-2302.09 812)" text-anchor="middle">s</text><text transform="translate(-2287.32 812)" text-anchor="middle">i</text><text transform="translate(-2272.55 812)" text-anchor="middle">t</text><text transform="translate(-2257.77 812) scale(0.953 1.000)" text-anchor="middle">y</text><text transform="translate(-2228.23 813.99) scale(1.350 1.120)" text-anchor="middle">/</text><text transform="translate(-2198.69 812) scale(0.505 1.000)" text-anchor="middle">W</text><text transform="translate(-2169.15 812)" text-anchor="middle">c</text><text transform="translate(-2154.38 812) scale(0.613 1.000)" text-anchor="middle">m</text></g>
<g font-family='"Liberation Serif", serif' font-size='20.5' stroke="#fff" stroke-width="0.3" transform="rotate(-90)"><text transform="translate(-2142.6 800.3) scale(0.830 1.000)" text-anchor="middle">−</text><text transform="translate(-2133 800.3) scale(0.937 1.000)" text-anchor="middle">2</text></g>
<g font-family='"Liberation Serif", serif' font-size='31' stroke="#fff" stroke-width="0.3"><text transform="translate(242.3 2620.8) scale(0.716 1.000)" text-anchor="middle">C</text><text transform="translate(257.1 2620.8) scale(0.955 1.000)" text-anchor="middle">u</text><text transform="translate(271.9 2620.8)" text-anchor="middle">r</text><text transform="translate(286.7 2620.8)" text-anchor="middle">r</text><text transform="translate(301.5 2620.8)" text-anchor="middle">e</text><text transform="translate(316.3 2620.8) scale(0.955 1.000)" text-anchor="middle">n</text><text transform="translate(331.1 2620.8)" text-anchor="middle">t</text><text transform="translate(360.7 2620.8) scale(0.955 1.000)" text-anchor="middle">d</text><text transform="translate(375.5 2620.8)" text-anchor="middle">e</text><text transform="translate(390.3 2620.8) scale(0.955 1.000)" text-anchor="middle">n</text><text transform="translate(405.1 2620.8)" text-anchor="middle">s</text><text transform="translate(419.9 2620.8)" text-anchor="middle">i</text><text transform="translate(434.7 2620.8)" text-anchor="middle">t</text><text transform="translate(449.5 2620.8) scale(0.955 1.000)" text-anchor="middle">y</text><text transform="translate(479.1 2622.79) scale(1.350 1.120)" text-anchor="middle">/</text><text transform="translate(508.7 2620.8) scale(0.661 1.000)" text-anchor="middle">A</text><text transform="translate(538.3 2620.8)" text-anchor="middle">c</text><text transform="translate(553.1 2620.8) scale(0.614 1.000)" text-anchor="middle">m</text></g>
<g font-family='"Liberation Serif", serif' font-size='20' stroke="#fff" stroke-width="0.3"><text transform="translate(565.3 2607.8) scale(0.851 1.000)" text-anchor="middle">−</text><text transform="translate(574.9 2607.8) scale(0.960 1.000)" text-anchor="middle">2</text></g>
<g font-family='"Liberation Serif", serif' font-size='27.8' stroke="#fff" stroke-width="0.3" transform="rotate(-90)"><text transform="translate(-1026.12 63.1) scale(0.839 1.000)" text-anchor="middle">P</text><text transform="translate(-1013.14 63.1) scale(0.933 1.000)" text-anchor="middle">o</text><text transform="translate(-1000.17 63.1) scale(0.646 1.000)" text-anchor="middle">w</text><text transform="translate(-987.2 63.1)" text-anchor="middle">e</text><text transform="translate(-974.23 63.1)" text-anchor="middle">r</text><text transform="translate(-948.29 63.1) scale(0.933 1.000)" text-anchor="middle">d</text><text transform="translate(-935.32 63.1)" text-anchor="middle">e</text><text transform="translate(-922.35 63.1) scale(0.933 1.000)" text-anchor="middle">n</text><text transform="translate(-909.38 63.1)" text-anchor="middle">s</text><text transform="translate(-896.41 63.1)" text-anchor="middle">i</text><text transform="translate(-883.44 63.1)" text-anchor="middle">t</text><text transform="translate(-870.47 63.1) scale(0.933 1.000)" text-anchor="middle">y</text><text transform="translate(-857.5 64.89) scale(1.350 1.120)" text-anchor="middle">/</text><text transform="translate(-844.53 63.1) scale(0.494 1.000)" text-anchor="middle">W</text><text transform="translate(-818.59 63.1)" text-anchor="middle">c</text><text transform="translate(-805.62 63.1) scale(0.600 1.000)" text-anchor="middle">m</text></g>
<g font-family='"Liberation Serif", serif' font-size='19.5' stroke="#fff" stroke-width="0.3" transform="rotate(-90)"><text transform="translate(-795.2 51.5) scale(0.782 1.000)" text-anchor="middle">−</text><text transform="translate(-786.6 51.5) scale(0.882 1.000)" text-anchor="middle">2</text></g>
<g font-family='"Liberation Serif", serif' font-size='28' stroke="#fff" stroke-width="0.3" transform="rotate(-90)"><text transform="translate(-997.82 791.6) scale(0.640 1.000)" text-anchor="middle">G</text><text transform="translate(-984.87 791.6)" text-anchor="middle">r</text><text transform="translate(-971.92 791.6) scale(0.925 1.000)" text-anchor="middle">o</text><text transform="translate(-958.97 791.6) scale(0.640 1.000)" text-anchor="middle">w</text><text transform="translate(-946.02 791.6)" text-anchor="middle">t</text><text transform="translate(-933.07 791.6) scale(0.925 1.000)" text-anchor="middle">h</text><text transform="translate(-907.17 791.6)" text-anchor="middle">r</text><text transform="translate(-894.22 791.6)" text-anchor="middle">a</text><text transform="translate(-881.27 791.6)" text-anchor="middle">t</text><text transform="translate(-868.32 791.6)" text-anchor="middle">e</text><text transform="translate(-842.42 793.4) scale(1.350 1.120)" text-anchor="middle">/</text><text transform="translate(-816.52 791.6) scale(0.555 1.000)" text-anchor="middle">%</text></g>
<g font-family='"Liberation Serif", serif' font-size='28.3' stroke="#fff" stroke-width="0.3" transform="rotate(-90)"><text transform="translate(-1722.39 38.7) scale(0.853 1.000)" text-anchor="middle">P</text><text transform="translate(-1708.97 38.7) scale(0.948 1.000)" text-anchor="middle">o</text><text transform="translate(-1695.55 38.7) scale(0.657 1.000)" text-anchor="middle">w</text><text transform="translate(-1682.13 38.7)" text-anchor="middle">e</text><text transform="translate(-1668.71 38.7)" text-anchor="middle">r</text><text transform="translate(-1641.87 38.7) scale(0.948 1.000)" text-anchor="middle">d</text><text transform="translate(-1628.45 38.7)" text-anchor="middle">e</text><text transform="translate(-1615.03 38.7) scale(0.948 1.000)" text-anchor="middle">n</text><text transform="translate(-1601.61 38.7)" text-anchor="middle">s</text><text transform="translate(-1588.19 38.7)" text-anchor="middle">i</text><text transform="translate(-1574.77 38.7)" text-anchor="middle">t</text><text transform="translate(-1561.35 38.7) scale(0.948 1.000)" text-anchor="middle">y</text><text transform="translate(-1547.93 40.52) scale(1.350 1.120)" text-anchor="middle">/</text><text transform="translate(-1534.51 38.7) scale(0.502 1.000)" text-anchor="middle">W</text><text transform="translate(-1507.67 38.7)" text-anchor="middle">c</text><text transform="translate(-1494.25 38.7) scale(0.610 1.000)" text-anchor="middle">m</text></g>
<g font-family='"Liberation Serif", serif' font-size='20' stroke="#fff" stroke-width="0.3" transform="rotate(-90)"><text transform="translate(-1483.2 28) scale(0.816 1.000)" text-anchor="middle">−</text><text transform="translate(-1474 28) scale(0.920 1.000)" text-anchor="middle">2</text></g>
<g font-family='"Liberation Serif", serif' font-size='28.5' stroke="#fff" stroke-width="0.3" transform="rotate(-90)"><text transform="translate(-1692.7 797.7) scale(0.651 1.000)" text-anchor="middle">G</text><text transform="translate(-1679.3 797.7)" text-anchor="middle">r</text><text transform="translate(-1665.9 797.7) scale(0.940 1.000)" text-anchor="middle">o</text><text transform="translate(-1652.5 797.7) scale(0.651 1.000)" text-anchor="middle">w</text><text transform="translate(-1639.1 797.7)" text-anchor="middle">t</text><text transform="translate(-1625.7 797.7) scale(0.940 1.000)" text-anchor="middle">h</text><text transform="translate(-1598.9 797.7)" text-anchor="middle">r</text><text transform="translate(-1585.5 797.7)" text-anchor="middle">a</text><text transform="translate(-1572.1 797.7)" text-anchor="middle">t</text><text transform="translate(-1558.7 797.7)" text-anchor="middle">e</text><text transform="translate(-1531.9 799.53) scale(1.350 1.120)" text-anchor="middle">/</text><text transform="translate(-1505.1 797.7) scale(0.564 1.000)" text-anchor="middle">%</text></g>
<path d="M310.4 585.3 Q292.92 598.4 310.4 611.5" fill="none" stroke="#000" stroke-width="1.4"/>
<text x="315.49" y="610" font-size="29" font-family='"Liberation Serif", serif' textLength="22.74" lengthAdjust="spacingAndGlyphs">A</text>
<path d="M342.3 585.3 Q360.54 598.4 342.3 611.5" fill="none" stroke="#000" stroke-width="1.4"/>
<text x="382.33" y="607.8" font-size="26" font-family='"Liberation Serif", serif' textLength="57.07" lengthAdjust="spacingAndGlyphs">T=70</text>
<circle cx="444" cy="593.3" r="2.1" fill="none" stroke="#000" stroke-width="1.1"/>
<text x="447.29" y="607.8" font-size="26" font-family='"Liberation Serif", serif' textLength="16.48" lengthAdjust="spacingAndGlyphs">C</text>
<text x="468.35" y="609.8" font-size="26" font-family='"Liberation Serif", serif' textLength="7.55" lengthAdjust="spacingAndGlyphs">,</text>
<text x="491.32" y="607.8" font-size="26" font-family='"Liberation Serif", serif' textLength="8.4" lengthAdjust="spacingAndGlyphs" font-style="italic">i</text>
<text x="498.17" y="607.8" font-size="26" font-family='"Liberation Serif", serif' textLength="28.44" lengthAdjust="spacingAndGlyphs">=1</text>
<text x="533.46" y="607.8" font-size="26" font-family='"Liberation Serif", serif' textLength="17.41" lengthAdjust="spacingAndGlyphs">A</text>
<text x="555.72" y="607.8" font-size="26" font-family='"Liberation Serif", serif' textLength="34.52" lengthAdjust="spacingAndGlyphs">cm</text>
<text x="589.1" y="595.6" font-size="16" font-family='"Liberation Serif", serif' textLength="15.63" lengthAdjust="spacingAndGlyphs">-2</text>
<text x="277.89" y="1281" font-size="33" font-family='"Liberation Serif", serif' textLength="12.97" lengthAdjust="spacingAndGlyphs">(</text>
<text x="288.58" y="1280.8" font-size="32" font-family='"Liberation Serif", serif' textLength="23.54" lengthAdjust="spacingAndGlyphs">B</text>
<text x="310.85" y="1281" font-size="33" font-family='"Liberation Serif", serif' textLength="11.93" lengthAdjust="spacingAndGlyphs">)</text>
<text x="324.62" y="1279.4" font-size="26" font-family='"Liberation Serif", serif' textLength="57.69" lengthAdjust="spacingAndGlyphs">T=80</text>
<circle cx="386.3" cy="1264.5" r="2" fill="none" stroke="#000" stroke-width="1.1"/>
<text x="389.4" y="1279.4" font-size="26" font-family='"Liberation Serif", serif' textLength="16.24" lengthAdjust="spacingAndGlyphs">C</text>
<text x="411.03" y="1281.4" font-size="26" font-family='"Liberation Serif", serif' textLength="6.38" lengthAdjust="spacingAndGlyphs">,</text>
<text x="434.62" y="1279.4" font-size="26" font-family='"Liberation Serif", serif' textLength="7.38" lengthAdjust="spacingAndGlyphs" font-style="italic">i</text>
<text x="439.93" y="1279.4" font-size="26" font-family='"Liberation Serif", serif' textLength="27.1" lengthAdjust="spacingAndGlyphs">=1</text>
<text x="476.77" y="1279.4" font-size="26" font-family='"Liberation Serif", serif' textLength="17.1" lengthAdjust="spacingAndGlyphs">A</text>
<text x="497.91" y="1279.4" font-size="26" font-family='"Liberation Serif", serif' textLength="35.04" lengthAdjust="spacingAndGlyphs">cm</text>
<text x="532.94" y="1267.3" font-size="15.5" font-family='"Liberation Serif", serif' textLength="14.84" lengthAdjust="spacingAndGlyphs">-2</text>
<path d="M204.4 1951.2 Q187.68 1963.9 204.4 1976.6" fill="none" stroke="#000" stroke-width="1.4"/>
<text x="209.83" y="1975.3" font-size="27.8" font-family='"Liberation Sans", sans-serif' textLength="17.01" lengthAdjust="spacingAndGlyphs" font-weight="bold">C</text>
<path d="M231 1951.2 Q247.91 1963.9 231 1976.6" fill="none" stroke="#000" stroke-width="1.4"/>
<text x="251.91" y="1973.6" font-size="27" font-family='"Liberation Serif", serif' textLength="58.51" lengthAdjust="spacingAndGlyphs">T=80</text>
<circle cx="314.9" cy="1956.8" r="1.9" fill="none" stroke="#000" stroke-width="1.1"/>
<text x="316.39" y="1973.8" font-size="28" font-family='"Liberation Serif", serif' textLength="18" lengthAdjust="spacingAndGlyphs">C</text>
<text x="337.72" y="1974.8" font-size="27" font-family='"Liberation Serif", serif' textLength="8.39" lengthAdjust="spacingAndGlyphs">,</text>
<text x="360.98" y="1973.6" font-size="27" font-family='"Liberation Serif", serif' textLength="10.57" lengthAdjust="spacingAndGlyphs" font-style="italic">i</text>
<text x="369.1" y="1973.6" font-size="27" font-family='"Liberation Serif", serif' textLength="47.42" lengthAdjust="spacingAndGlyphs">=1.3</text>
<text x="444.94" y="1973.6" font-size="27" font-family='"Liberation Serif", serif' textLength="18.95" lengthAdjust="spacingAndGlyphs">A</text>
<text x="469.29" y="1973.6" font-size="27" font-family='"Liberation Serif", serif' textLength="32.32" lengthAdjust="spacingAndGlyphs">cm</text>
<text x="501.73" y="1960.6" font-size="16" font-family='"Liberation Serif", serif' textLength="14.96" lengthAdjust="spacingAndGlyphs">-2</text>
<path d="M186.2 2671.8 Q169.48 2684.4 186.2 2697" fill="none" stroke="#000" stroke-width="1.4"/>
<text x="191.17" y="2696.1" font-size="32.4" font-family='"Liberation Serif", serif' textLength="23.21" lengthAdjust="spacingAndGlyphs">D</text>
<path d="M219 2671.8 Q235.72 2684.4 219 2697" fill="none" stroke="#000" stroke-width="1.4"/>
<text x="238.84" y="2694.4" font-size="28.2" font-family='"Liberation Serif", serif' textLength="409.06" lengthAdjust="spacingAndGlyphs">Influence of temperature and humidity</text>
</svg></body></html>
